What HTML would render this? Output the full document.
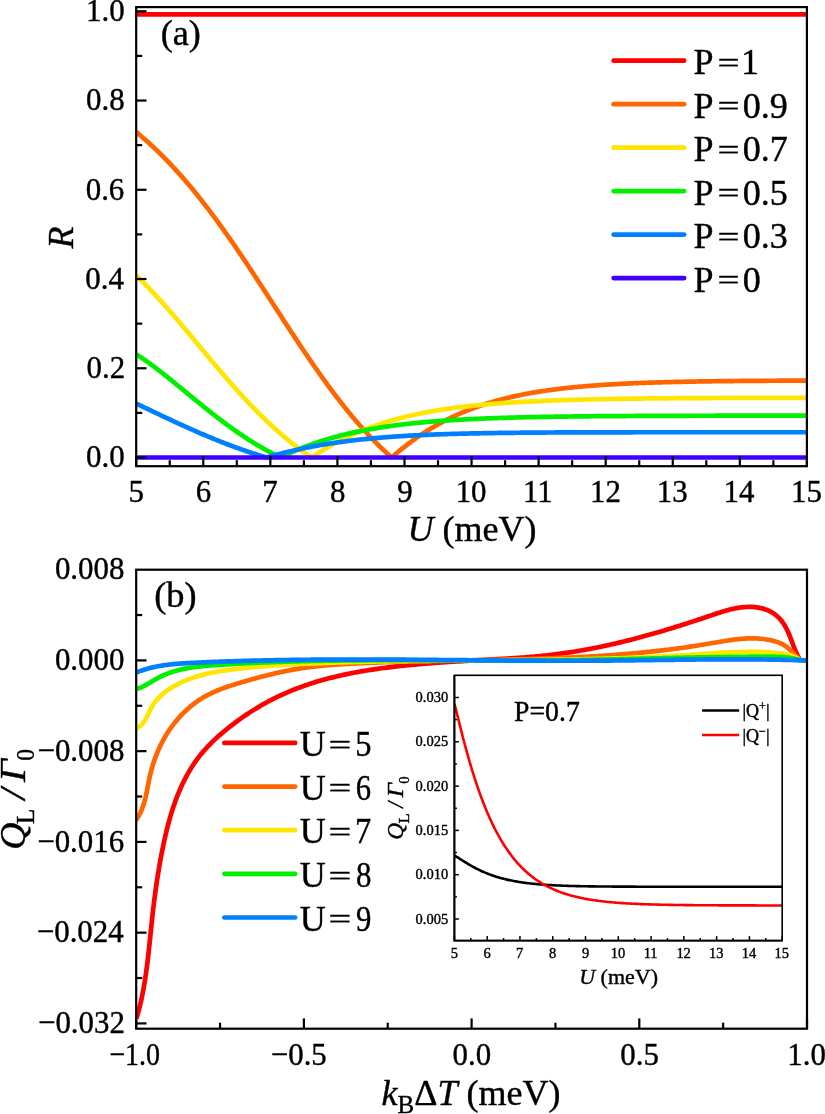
<!DOCTYPE html>
<html><head><meta charset="utf-8"><title>Figure</title>
<style>html,body{margin:0;padding:0;background:#fff;overflow:hidden}svg{display:block}text{stroke:#000;stroke-width:0.4px}</style>
</head><body>
<svg width="825" height="1114" viewBox="0 0 825 1114">
<rect width="825" height="1114" fill="#fff"/>
<defs><clipPath id="ca"><rect x="136.2" y="7.1" width="670.7" height="459.09999999999997"/></clipPath>
<clipPath id="cb"><rect x="136.2" y="569.7" width="670.8" height="459.0"/></clipPath>
<clipPath id="ci"><rect x="454.4" y="675.3" width="327.80000000000007" height="265.30000000000007"/></clipPath></defs>
<g clip-path="url(#ca)" fill="none" stroke-width="4.7" stroke-linejoin="round">
<path d="M136.2 14.4L806.9 14.4" stroke="#ff0000"/>
<path d="M136.2 131.97L137.32 132.9L138.44 133.83L139.55 134.78L140.67 135.73L141.79 136.69L142.91 137.66L144.02 138.63L145.14 139.62L146.26 140.61L147.38 141.61L148.5 142.62L149.61 143.64L150.73 144.66L151.85 145.7L152.97 146.74L154.09 147.79L155.2 148.85L156.32 149.92L157.44 151L158.56 152.08L159.67 153.18L160.79 154.28L161.91 155.39L163.03 156.51L164.15 157.64L165.26 158.78L166.38 159.93L167.5 161.08L168.62 162.24L169.73 163.42L170.85 164.6L171.97 165.79L173.09 166.99L174.21 168.19L175.32 169.41L176.44 170.64L177.56 171.87L178.68 173.11L179.8 174.36L180.91 175.62L182.03 176.89L183.15 178.17L184.27 179.46L185.38 180.75L186.5 182.05L187.62 183.37L188.74 184.69L189.86 186.02L190.97 187.35L192.09 188.7L193.21 190.06L194.33 191.42L195.45 192.79L196.56 194.17L197.68 195.56L198.8 196.96L199.92 198.36L201.03 199.78L202.15 201.2L203.27 202.63L204.39 204.07L205.51 205.51L206.62 206.97L207.74 208.43L208.86 209.9L209.98 211.37L211.09 212.86L212.21 214.35L213.33 215.85L214.45 217.36L215.57 218.87L216.68 220.39L217.8 221.92L218.92 223.46L220.04 225L221.16 226.55L222.27 228.11L223.39 229.67L224.51 231.24L225.63 232.82L226.74 234.4L227.86 235.99L228.98 237.59L230.1 239.19L231.22 240.8L232.33 242.41L233.45 244.03L234.57 245.66L235.69 247.29L236.81 248.92L237.92 250.56L239.04 252.21L240.16 253.86L241.28 255.52L242.39 257.18L243.51 258.84L244.63 260.51L245.75 262.18L246.87 263.86L247.98 265.54L249.1 267.23L250.22 268.92L251.34 270.61L252.45 272.3L253.57 274L254.69 275.71L255.81 277.41L256.93 279.12L258.04 280.83L259.16 282.54L260.28 284.25L261.4 285.97L262.52 287.69L263.63 289.41L264.75 291.13L265.87 292.85L266.99 294.57L268.1 296.3L269.22 298.02L270.34 299.75L271.46 301.48L272.58 303.2L273.69 304.93L274.81 306.66L275.93 308.38L277.05 310.11L278.16 311.84L279.28 313.56L280.4 315.28L281.52 317.01L282.64 318.73L283.75 320.45L284.87 322.17L285.99 323.88L287.11 325.6L288.23 327.31L289.34 329.02L290.46 330.72L291.58 332.43L292.7 334.13L293.81 335.83L294.93 337.52L296.05 339.21L297.17 340.9L298.29 342.59L299.4 344.27L300.52 345.94L301.64 347.61L302.76 349.28L303.88 350.95L304.99 352.6L306.11 354.26L307.23 355.9L308.35 357.55L309.46 359.18L310.58 360.82L311.7 362.44L312.82 364.06L313.94 365.68L315.05 367.29L316.17 368.89L317.29 370.48L318.41 372.07L319.52 373.66L320.64 375.23L321.76 376.8L322.88 378.36L324 379.92L325.11 381.46L326.23 383L327.35 384.54L328.47 386.06L329.59 387.58L330.7 389.09L331.82 390.59L332.94 392.08L334.06 393.57L335.17 395.04L336.29 396.51L337.41 397.97L338.53 399.42L339.65 400.87L340.76 402.3L341.88 403.73L343 405.14L344.12 406.55L345.23 407.95L346.35 409.34L347.47 410.72L348.59 412.09L349.71 413.45L350.82 414.8L351.94 416.15L353.06 417.48L354.18 418.81L355.3 420.12L356.41 421.42L357.53 422.72L358.65 424.01L359.77 425.28L360.88 426.55L362 427.8L363.12 429.05L364.24 430.29L365.36 431.51L366.47 432.73L367.59 433.94L368.71 435.13L369.83 436.32L370.95 437.5L372.06 438.67L373.18 439.82L374.3 440.97L375.42 442.11L376.53 443.24L377.65 444.35L378.77 445.46L379.89 446.56L381.01 447.64L382.12 448.72L383.24 449.79L384.36 450.85L385.48 451.89L386.59 452.93L387.71 453.96L388.83 454.98L389.95 455.99L391.07 456.99L391.65 457.5L392.18 457.03L393.3 456.05L394.42 455.08L395.54 454.12L396.66 453.17L397.77 452.23L398.89 451.3L400.01 450.38L401.13 449.47L402.24 448.56L403.36 447.67L404.48 446.79L405.6 445.91L406.72 445.05L407.83 444.19L408.95 443.35L410.07 442.51L411.19 441.68L412.3 440.86L413.42 440.06L414.54 439.25L415.66 438.46L416.78 437.68L417.89 436.91L419.01 436.14L420.13 435.38L421.25 434.63L422.37 433.9L423.48 433.16L424.6 432.44L425.72 431.73L426.84 431.02L427.95 430.32L429.07 429.63L430.19 428.95L431.31 428.28L432.43 427.61L433.54 426.96L434.66 426.31L435.78 425.67L436.9 425.03L438.01 424.41L439.13 423.79L440.25 423.18L441.37 422.57L442.49 421.98L443.6 421.39L444.72 420.81L445.84 420.23L446.96 419.67L448.08 419.11L449.19 418.55L450.31 418.01L451.43 417.47L452.55 416.94L453.66 416.41L454.78 415.89L455.9 415.38L457.02 414.88L458.14 414.38L459.25 413.89L460.37 413.4L461.49 412.92L462.61 412.45L463.73 411.98L464.84 411.52L465.96 411.07L467.08 410.62L468.2 410.17L469.31 409.74L470.43 409.31L471.55 408.88L472.67 408.46L473.79 408.05L474.9 407.64L476.02 407.24L477.14 406.84L478.26 406.45L479.37 406.06L480.49 405.68L481.61 405.3L482.73 404.93L483.85 404.57L484.96 404.2L486.08 403.85L487.2 403.5L488.32 403.15L489.44 402.81L490.55 402.47L491.67 402.14L492.79 401.81L493.91 401.49L495.02 401.17L496.14 400.86L497.26 400.55L498.38 400.24L499.5 399.94L500.61 399.65L501.73 399.35L502.85 399.07L503.97 398.78L505.09 398.5L506.2 398.22L507.32 397.95L508.44 397.68L509.56 397.42L510.67 397.16L511.79 396.9L512.91 396.65L514.03 396.4L515.15 396.15L516.26 395.91L517.38 395.67L518.5 395.44L519.62 395.2L520.73 394.98L521.85 394.75L522.97 394.53L524.09 394.31L525.21 394.09L526.32 393.88L527.44 393.67L528.56 393.47L529.68 393.26L530.8 393.06L531.91 392.87L533.03 392.67L534.15 392.48L535.27 392.29L536.38 392.11L537.5 391.92L538.62 391.74L539.74 391.56L540.86 391.39L541.97 391.22L543.09 391.05L544.21 390.88L545.33 390.72L546.44 390.55L547.56 390.39L548.68 390.24L549.8 390.08L550.92 389.93L552.03 389.78L553.15 389.63L554.27 389.48L555.39 389.34L556.51 389.2L557.62 389.06L558.74 388.92L559.86 388.79L560.98 388.65L562.09 388.52L563.21 388.39L564.33 388.26L565.45 388.14L566.57 388.02L567.68 387.89L568.8 387.77L569.92 387.66L571.04 387.54L572.15 387.43L573.27 387.31L574.39 387.2L575.51 387.09L576.63 386.99L577.74 386.88L578.86 386.78L579.98 386.68L581.1 386.57L582.22 386.47L583.33 386.38L584.45 386.28L585.57 386.19L586.69 386.09L587.8 386L588.92 385.91L590.04 385.82L591.16 385.73L592.28 385.65L593.39 385.56L594.51 385.48L595.63 385.4L596.75 385.32L597.87 385.24L598.98 385.16L600.1 385.08L601.22 385L602.34 384.93L603.45 384.86L604.57 384.78L605.69 384.71L606.81 384.64L607.93 384.57L609.04 384.5L610.16 384.44L611.28 384.37L612.4 384.31L613.51 384.24L614.63 384.18L615.75 384.12L616.87 384.06L617.99 384L619.1 383.94L620.22 383.88L621.34 383.82L622.46 383.77L623.58 383.71L624.69 383.66L625.81 383.6L626.93 383.55L628.05 383.5L629.16 383.45L630.28 383.4L631.4 383.35L632.52 383.3L633.64 383.25L634.75 383.2L635.87 383.16L636.99 383.11L638.11 383.07L639.22 383.02L640.34 382.98L641.46 382.94L642.58 382.9L643.7 382.85L644.81 382.81L645.93 382.77L647.05 382.73L648.17 382.7L649.29 382.66L650.4 382.62L651.52 382.58L652.64 382.55L653.76 382.51L654.87 382.48L655.99 382.44L657.11 382.41L658.23 382.37L659.35 382.34L660.46 382.31L661.58 382.28L662.7 382.25L663.82 382.21L664.94 382.18L666.05 382.15L667.17 382.12L668.29 382.1L669.41 382.07L670.52 382.04L671.64 382.01L672.76 381.99L673.88 381.96L675 381.93L676.11 381.91L677.23 381.88L678.35 381.86L679.47 381.83L680.58 381.81L681.7 381.78L682.82 381.76L683.94 381.74L685.06 381.72L686.17 381.69L687.29 381.67L688.41 381.65L689.53 381.63L690.65 381.61L691.76 381.59L692.88 381.57L694 381.55L695.12 381.53L696.23 381.51L697.35 381.49L698.47 381.47L699.59 381.45L700.71 381.44L701.82 381.42L702.94 381.4L704.06 381.39L705.18 381.37L706.3 381.35L707.41 381.34L708.53 381.32L709.65 381.3L710.77 381.29L711.88 381.27L713 381.26L714.12 381.25L715.24 381.23L716.36 381.22L717.47 381.2L718.59 381.19L719.71 381.18L720.83 381.16L721.94 381.15L723.06 381.14L724.18 381.13L725.3 381.11L726.42 381.1L727.53 381.09L728.65 381.08L729.77 381.07L730.89 381.05L732.01 381.04L733.12 381.03L734.24 381.02L735.36 381.01L736.48 381L737.59 380.99L738.71 380.98L739.83 380.97L740.95 380.96L742.07 380.95L743.18 380.94L744.3 380.93L745.42 380.92L746.54 380.92L747.65 380.91L748.77 380.9L749.89 380.89L751.01 380.88L752.13 380.87L753.24 380.87L754.36 380.86L755.48 380.85L756.6 380.84L757.72 380.84L758.83 380.83L759.95 380.82L761.07 380.81L762.19 380.81L763.3 380.8L764.42 380.79L765.54 380.79L766.66 380.78L767.78 380.77L768.89 380.77L770.01 380.76L771.13 380.76L772.25 380.75L773.37 380.74L774.48 380.74L775.6 380.73L776.72 380.73L777.84 380.72L778.95 380.72L780.07 380.71L781.19 380.71L782.31 380.7L783.43 380.7L784.54 380.69L785.66 380.69L786.78 380.68L787.9 380.68L789.01 380.67L790.13 380.67L791.25 380.66L792.37 380.66L793.49 380.66L794.6 380.65L795.72 380.65L796.84 380.64L797.96 380.64L799.08 380.64L800.19 380.63L801.31 380.63L802.43 380.62L803.55 380.62L804.66 380.62L805.78 380.61L806.9 380.61" stroke="#ff6600"/>
<path d="M136.2 275.42L137.32 276.5L138.44 277.58L139.55 278.68L140.67 279.78L141.79 280.89L142.91 282.01L144.02 283.13L145.14 284.27L146.26 285.41L147.38 286.57L148.5 287.72L149.61 288.89L150.73 290.07L151.85 291.25L152.97 292.44L154.09 293.63L155.2 294.84L156.32 296.05L157.44 297.26L158.56 298.48L159.67 299.71L160.79 300.95L161.91 302.19L163.03 303.44L164.15 304.69L165.26 305.95L166.38 307.21L167.5 308.48L168.62 309.76L169.73 311.04L170.85 312.32L171.97 313.61L173.09 314.9L174.21 316.2L175.32 317.5L176.44 318.8L177.56 320.11L178.68 321.42L179.8 322.74L180.91 324.06L182.03 325.38L183.15 326.7L184.27 328.03L185.38 329.36L186.5 330.69L187.62 332.02L188.74 333.36L189.86 334.69L190.97 336.03L192.09 337.37L193.21 338.71L194.33 340.05L195.45 341.39L196.56 342.74L197.68 344.08L198.8 345.42L199.92 346.76L201.03 348.11L202.15 349.45L203.27 350.79L204.39 352.13L205.51 353.47L206.62 354.81L207.74 356.15L208.86 357.49L209.98 358.82L211.09 360.15L212.21 361.48L213.33 362.81L214.45 364.14L215.57 365.46L216.68 366.78L217.8 368.1L218.92 369.42L220.04 370.73L221.16 372.04L222.27 373.35L223.39 374.65L224.51 375.95L225.63 377.24L226.74 378.53L227.86 379.82L228.98 381.1L230.1 382.38L231.22 383.65L232.33 384.92L233.45 386.18L234.57 387.44L235.69 388.69L236.81 389.94L237.92 391.18L239.04 392.42L240.16 393.65L241.28 394.88L242.39 396.1L243.51 397.31L244.63 398.52L245.75 399.72L246.87 400.92L247.98 402.11L249.1 403.29L250.22 404.47L251.34 405.64L252.45 406.8L253.57 407.96L254.69 409.11L255.81 410.25L256.93 411.39L258.04 412.52L259.16 413.64L260.28 414.75L261.4 415.86L262.52 416.96L263.63 418.05L264.75 419.14L265.87 420.21L266.99 421.28L268.1 422.35L269.22 423.4L270.34 424.45L271.46 425.49L272.58 426.52L273.69 427.55L274.81 428.56L275.93 429.57L277.05 430.57L278.16 431.56L279.28 432.55L280.4 433.53L281.52 434.5L282.64 435.46L283.75 436.41L284.87 437.36L285.99 438.29L287.11 439.22L288.23 440.14L289.34 441.06L290.46 441.96L291.58 442.86L292.7 443.75L293.81 444.63L294.93 445.5L296.05 446.37L297.17 447.23L298.29 448.08L299.4 448.92L300.52 449.75L301.64 450.58L302.76 451.39L303.88 452.2L304.99 453.01L306.11 453.8L307.23 454.59L308.35 455.37L309.46 456.14L310.58 456.9L311.47 457.5L311.7 457.34L312.82 456.6L313.94 455.86L315.05 455.12L316.17 454.4L317.29 453.68L318.41 452.97L319.52 452.27L320.64 451.57L321.76 450.88L322.88 450.2L324 449.53L325.11 448.86L326.23 448.21L327.35 447.55L328.47 446.91L329.59 446.27L330.7 445.64L331.82 445.02L332.94 444.4L334.06 443.79L335.17 443.19L336.29 442.59L337.41 442.01L338.53 441.42L339.65 440.85L340.76 440.28L341.88 439.72L343 439.16L344.12 438.61L345.23 438.07L346.35 437.53L347.47 437L348.59 436.47L349.71 435.96L350.82 435.44L351.94 434.94L353.06 434.44L354.18 433.95L355.3 433.46L356.41 432.98L357.53 432.5L358.65 432.03L359.77 431.56L360.88 431.1L362 430.65L363.12 430.2L364.24 429.76L365.36 429.32L366.47 428.89L367.59 428.47L368.71 428.05L369.83 427.63L370.95 427.22L372.06 426.82L373.18 426.42L374.3 426.02L375.42 425.63L376.53 425.25L377.65 424.87L378.77 424.49L379.89 424.12L381.01 423.75L382.12 423.39L383.24 423.04L384.36 422.68L385.48 422.34L386.59 421.99L387.71 421.66L388.83 421.32L389.95 420.99L391.07 420.67L392.18 420.35L393.3 420.03L394.42 419.72L395.54 419.41L396.66 419.1L397.77 418.8L398.89 418.51L400.01 418.21L401.13 417.93L402.24 417.64L403.36 417.36L404.48 417.08L405.6 416.81L406.72 416.54L407.83 416.27L408.95 416.01L410.07 415.75L411.19 415.49L412.3 415.24L413.42 414.99L414.54 414.75L415.66 414.51L416.78 414.27L417.89 414.03L419.01 413.8L420.13 413.57L421.25 413.34L422.37 413.12L423.48 412.9L424.6 412.68L425.72 412.47L426.84 412.26L427.95 412.05L429.07 411.84L430.19 411.64L431.31 411.44L432.43 411.24L433.54 411.05L434.66 410.86L435.78 410.67L436.9 410.48L438.01 410.3L439.13 410.12L440.25 409.94L441.37 409.76L442.49 409.59L443.6 409.42L444.72 409.25L445.84 409.08L446.96 408.92L448.08 408.76L449.19 408.6L450.31 408.44L451.43 408.28L452.55 408.13L453.66 407.98L454.78 407.83L455.9 407.68L457.02 407.54L458.14 407.4L459.25 407.26L460.37 407.12L461.49 406.98L462.61 406.85L463.73 406.71L464.84 406.58L465.96 406.45L467.08 406.33L468.2 406.2L469.31 406.08L470.43 405.95L471.55 405.83L472.67 405.72L473.79 405.6L474.9 405.48L476.02 405.37L477.14 405.26L478.26 405.15L479.37 405.04L480.49 404.93L481.61 404.83L482.73 404.72L483.85 404.62L484.96 404.52L486.08 404.42L487.2 404.32L488.32 404.22L489.44 404.13L490.55 404.03L491.67 403.94L492.79 403.85L493.91 403.76L495.02 403.67L496.14 403.58L497.26 403.5L498.38 403.41L499.5 403.33L500.61 403.25L501.73 403.16L502.85 403.08L503.97 403.01L505.09 402.93L506.2 402.85L507.32 402.77L508.44 402.7L509.56 402.63L510.67 402.55L511.79 402.48L512.91 402.41L514.03 402.34L515.15 402.27L516.26 402.21L517.38 402.14L518.5 402.08L519.62 402.01L520.73 401.95L521.85 401.88L522.97 401.82L524.09 401.76L525.21 401.7L526.32 401.64L527.44 401.59L528.56 401.53L529.68 401.47L530.8 401.42L531.91 401.36L533.03 401.31L534.15 401.25L535.27 401.2L536.38 401.15L537.5 401.1L538.62 401.05L539.74 401L540.86 400.95L541.97 400.9L543.09 400.85L544.21 400.81L545.33 400.76L546.44 400.72L547.56 400.67L548.68 400.63L549.8 400.58L550.92 400.54L552.03 400.5L553.15 400.46L554.27 400.42L555.39 400.38L556.51 400.34L557.62 400.3L558.74 400.26L559.86 400.22L560.98 400.18L562.09 400.15L563.21 400.11L564.33 400.07L565.45 400.04L566.57 400L567.68 399.97L568.8 399.94L569.92 399.9L571.04 399.87L572.15 399.84L573.27 399.81L574.39 399.78L575.51 399.74L576.63 399.71L577.74 399.68L578.86 399.65L579.98 399.63L581.1 399.6L582.22 399.57L583.33 399.54L584.45 399.51L585.57 399.49L586.69 399.46L587.8 399.43L588.92 399.41L590.04 399.38L591.16 399.36L592.28 399.33L593.39 399.31L594.51 399.28L595.63 399.26L596.75 399.24L597.87 399.21L598.98 399.19L600.1 399.17L601.22 399.15L602.34 399.13L603.45 399.1L604.57 399.08L605.69 399.06L606.81 399.04L607.93 399.02L609.04 399L610.16 398.98L611.28 398.96L612.4 398.94L613.51 398.93L614.63 398.91L615.75 398.89L616.87 398.87L617.99 398.85L619.1 398.84L620.22 398.82L621.34 398.8L622.46 398.79L623.58 398.77L624.69 398.75L625.81 398.74L626.93 398.72L628.05 398.71L629.16 398.69L630.28 398.68L631.4 398.66L632.52 398.65L633.64 398.63L634.75 398.62L635.87 398.61L636.99 398.59L638.11 398.58L639.22 398.57L640.34 398.55L641.46 398.54L642.58 398.53L643.7 398.51L644.81 398.5L645.93 398.49L647.05 398.48L648.17 398.47L649.29 398.45L650.4 398.44L651.52 398.43L652.64 398.42L653.76 398.41L654.87 398.4L655.99 398.39L657.11 398.38L658.23 398.37L659.35 398.36L660.46 398.35L661.58 398.34L662.7 398.33L663.82 398.32L664.94 398.31L666.05 398.3L667.17 398.29L668.29 398.28L669.41 398.27L670.52 398.26L671.64 398.26L672.76 398.25L673.88 398.24L675 398.23L676.11 398.22L677.23 398.22L678.35 398.21L679.47 398.2L680.58 398.19L681.7 398.18L682.82 398.18L683.94 398.17L685.06 398.16L686.17 398.16L687.29 398.15L688.41 398.14L689.53 398.14L690.65 398.13L691.76 398.12L692.88 398.12L694 398.11L695.12 398.1L696.23 398.1L697.35 398.09L698.47 398.08L699.59 398.08L700.71 398.07L701.82 398.07L702.94 398.06L704.06 398.06L705.18 398.05L706.3 398.05L707.41 398.04L708.53 398.03L709.65 398.03L710.77 398.02L711.88 398.02L713 398.01L714.12 398.01L715.24 398L716.36 398L717.47 398L718.59 397.99L719.71 397.99L720.83 397.98L721.94 397.98L723.06 397.97L724.18 397.97L725.3 397.96L726.42 397.96L727.53 397.96L728.65 397.95L729.77 397.95L730.89 397.94L732.01 397.94L733.12 397.94L734.24 397.93L735.36 397.93L736.48 397.93L737.59 397.92L738.71 397.92L739.83 397.92L740.95 397.91L742.07 397.91L743.18 397.91L744.3 397.9L745.42 397.9L746.54 397.9L747.65 397.89L748.77 397.89L749.89 397.89L751.01 397.88L752.13 397.88L753.24 397.88L754.36 397.88L755.48 397.87L756.6 397.87L757.72 397.87L758.83 397.86L759.95 397.86L761.07 397.86L762.19 397.86L763.3 397.85L764.42 397.85L765.54 397.85L766.66 397.85L767.78 397.84L768.89 397.84L770.01 397.84L771.13 397.84L772.25 397.84L773.37 397.83L774.48 397.83L775.6 397.83L776.72 397.83L777.84 397.82L778.95 397.82L780.07 397.82L781.19 397.82L782.31 397.82L783.43 397.81L784.54 397.81L785.66 397.81L786.78 397.81L787.9 397.81L789.01 397.81L790.13 397.8L791.25 397.8L792.37 397.8L793.49 397.8L794.6 397.8L795.72 397.8L796.84 397.79L797.96 397.79L799.08 397.79L800.19 397.79L801.31 397.79L802.43 397.79L803.55 397.78L804.66 397.78L805.78 397.78L806.9 397.78" stroke="#ffe600"/>
<path d="M136.2 354.21L137.32 354.93L138.44 355.66L139.55 356.4L140.67 357.15L141.79 357.9L142.91 358.66L144.02 359.44L145.14 360.22L146.26 361L147.38 361.8L148.5 362.6L149.61 363.41L150.73 364.23L151.85 365.05L152.97 365.88L154.09 366.71L155.2 367.56L156.32 368.4L157.44 369.26L158.56 370.12L159.67 370.98L160.79 371.85L161.91 372.72L163.03 373.6L164.15 374.48L165.26 375.36L166.38 376.25L167.5 377.15L168.62 378.04L169.73 378.94L170.85 379.85L171.97 380.75L173.09 381.66L174.21 382.57L175.32 383.48L176.44 384.4L177.56 385.31L178.68 386.23L179.8 387.15L180.91 388.07L182.03 388.99L183.15 389.91L184.27 390.83L185.38 391.75L186.5 392.68L187.62 393.6L188.74 394.52L189.86 395.44L190.97 396.36L192.09 397.28L193.21 398.2L194.33 399.12L195.45 400.03L196.56 400.95L197.68 401.86L198.8 402.77L199.92 403.68L201.03 404.59L202.15 405.5L203.27 406.4L204.39 407.3L205.51 408.2L206.62 409.09L207.74 409.98L208.86 410.87L209.98 411.75L211.09 412.64L212.21 413.51L213.33 414.39L214.45 415.26L215.57 416.13L216.68 416.99L217.8 417.85L218.92 418.7L220.04 419.56L221.16 420.4L222.27 421.24L223.39 422.08L224.51 422.91L225.63 423.74L226.74 424.56L227.86 425.38L228.98 426.2L230.1 427L231.22 427.81L232.33 428.6L233.45 429.4L234.57 430.19L235.69 430.97L236.81 431.74L237.92 432.52L239.04 433.28L240.16 434.04L241.28 434.8L242.39 435.55L243.51 436.29L244.63 437.03L245.75 437.76L246.87 438.48L247.98 439.2L249.1 439.92L250.22 440.63L251.34 441.33L252.45 442.03L253.57 442.72L254.69 443.4L255.81 444.08L256.93 444.76L258.04 445.42L259.16 446.08L260.28 446.74L261.4 447.39L262.52 448.03L263.63 448.67L264.75 449.3L265.87 449.93L266.99 450.55L268.1 451.16L269.22 451.77L270.34 452.37L271.46 452.96L272.58 453.55L273.69 454.14L274.81 454.72L275.93 455.29L277.05 455.85L278.16 456.42L279.28 456.97L280.36 457.5L280.4 457.48L281.52 456.94L282.64 456.4L283.75 455.87L284.87 455.34L285.99 454.82L287.11 454.31L288.23 453.8L289.34 453.3L290.46 452.8L291.58 452.31L292.7 451.82L293.81 451.34L294.93 450.86L296.05 450.39L297.17 449.92L298.29 449.46L299.4 449.01L300.52 448.56L301.64 448.12L302.76 447.68L303.88 447.24L304.99 446.81L306.11 446.39L307.23 445.97L308.35 445.56L309.46 445.15L310.58 444.75L311.7 444.35L312.82 443.95L313.94 443.56L315.05 443.18L316.17 442.8L317.29 442.42L318.41 442.05L319.52 441.69L320.64 441.32L321.76 440.97L322.88 440.61L324 440.27L325.11 439.92L326.23 439.58L327.35 439.25L328.47 438.92L329.59 438.59L330.7 438.27L331.82 437.95L332.94 437.63L334.06 437.32L335.17 437.02L336.29 436.71L337.41 436.42L338.53 436.12L339.65 435.83L340.76 435.54L341.88 435.26L343 434.98L344.12 434.7L345.23 434.43L346.35 434.16L347.47 433.9L348.59 433.64L349.71 433.38L350.82 433.12L351.94 432.87L353.06 432.63L354.18 432.38L355.3 432.14L356.41 431.9L357.53 431.67L358.65 431.43L359.77 431.21L360.88 430.98L362 430.76L363.12 430.54L364.24 430.32L365.36 430.11L366.47 429.9L367.59 429.69L368.71 429.49L369.83 429.29L370.95 429.09L372.06 428.89L373.18 428.7L374.3 428.51L375.42 428.32L376.53 428.13L377.65 427.95L378.77 427.77L379.89 427.59L381.01 427.41L382.12 427.24L383.24 427.07L384.36 426.9L385.48 426.74L386.59 426.57L387.71 426.41L388.83 426.25L389.95 426.09L391.07 425.94L392.18 425.79L393.3 425.64L394.42 425.49L395.54 425.34L396.66 425.2L397.77 425.06L398.89 424.92L400.01 424.78L401.13 424.64L402.24 424.51L403.36 424.38L404.48 424.25L405.6 424.12L406.72 423.99L407.83 423.87L408.95 423.75L410.07 423.63L411.19 423.51L412.3 423.39L413.42 423.27L414.54 423.16L415.66 423.05L416.78 422.93L417.89 422.83L419.01 422.72L420.13 422.61L421.25 422.51L422.37 422.4L423.48 422.3L424.6 422.2L425.72 422.1L426.84 422.01L427.95 421.91L429.07 421.82L430.19 421.72L431.31 421.63L432.43 421.54L433.54 421.45L434.66 421.36L435.78 421.28L436.9 421.19L438.01 421.11L439.13 421.03L440.25 420.94L441.37 420.86L442.49 420.78L443.6 420.71L444.72 420.63L445.84 420.55L446.96 420.48L448.08 420.41L449.19 420.33L450.31 420.26L451.43 420.19L452.55 420.12L453.66 420.05L454.78 419.99L455.9 419.92L457.02 419.86L458.14 419.79L459.25 419.73L460.37 419.67L461.49 419.61L462.61 419.54L463.73 419.48L464.84 419.43L465.96 419.37L467.08 419.31L468.2 419.26L469.31 419.2L470.43 419.15L471.55 419.09L472.67 419.04L473.79 418.99L474.9 418.94L476.02 418.89L477.14 418.84L478.26 418.79L479.37 418.74L480.49 418.69L481.61 418.64L482.73 418.6L483.85 418.55L484.96 418.51L486.08 418.46L487.2 418.42L488.32 418.38L489.44 418.33L490.55 418.29L491.67 418.25L492.79 418.21L493.91 418.17L495.02 418.13L496.14 418.09L497.26 418.06L498.38 418.02L499.5 417.98L500.61 417.95L501.73 417.91L502.85 417.88L503.97 417.84L505.09 417.81L506.2 417.77L507.32 417.74L508.44 417.71L509.56 417.68L510.67 417.64L511.79 417.61L512.91 417.58L514.03 417.55L515.15 417.52L516.26 417.49L517.38 417.46L518.5 417.44L519.62 417.41L520.73 417.38L521.85 417.35L522.97 417.33L524.09 417.3L525.21 417.27L526.32 417.25L527.44 417.22L528.56 417.2L529.68 417.17L530.8 417.15L531.91 417.13L533.03 417.1L534.15 417.08L535.27 417.06L536.38 417.04L537.5 417.01L538.62 416.99L539.74 416.97L540.86 416.95L541.97 416.93L543.09 416.91L544.21 416.89L545.33 416.87L546.44 416.85L547.56 416.83L548.68 416.81L549.8 416.79L550.92 416.78L552.03 416.76L553.15 416.74L554.27 416.72L555.39 416.71L556.51 416.69L557.62 416.67L558.74 416.66L559.86 416.64L560.98 416.62L562.09 416.61L563.21 416.59L564.33 416.58L565.45 416.56L566.57 416.55L567.68 416.53L568.8 416.52L569.92 416.5L571.04 416.49L572.15 416.48L573.27 416.46L574.39 416.45L575.51 416.44L576.63 416.42L577.74 416.41L578.86 416.4L579.98 416.39L581.1 416.38L582.22 416.36L583.33 416.35L584.45 416.34L585.57 416.33L586.69 416.32L587.8 416.31L588.92 416.3L590.04 416.29L591.16 416.27L592.28 416.26L593.39 416.25L594.51 416.24L595.63 416.23L596.75 416.22L597.87 416.22L598.98 416.21L600.1 416.2L601.22 416.19L602.34 416.18L603.45 416.17L604.57 416.16L605.69 416.15L606.81 416.14L607.93 416.14L609.04 416.13L610.16 416.12L611.28 416.11L612.4 416.1L613.51 416.1L614.63 416.09L615.75 416.08L616.87 416.07L617.99 416.07L619.1 416.06L620.22 416.05L621.34 416.05L622.46 416.04L623.58 416.03L624.69 416.03L625.81 416.02L626.93 416.01L628.05 416.01L629.16 416L630.28 415.99L631.4 415.99L632.52 415.98L633.64 415.98L634.75 415.97L635.87 415.96L636.99 415.96L638.11 415.95L639.22 415.95L640.34 415.94L641.46 415.94L642.58 415.93L643.7 415.93L644.81 415.92L645.93 415.92L647.05 415.91L648.17 415.91L649.29 415.9L650.4 415.9L651.52 415.89L652.64 415.89L653.76 415.89L654.87 415.88L655.99 415.88L657.11 415.87L658.23 415.87L659.35 415.86L660.46 415.86L661.58 415.86L662.7 415.85L663.82 415.85L664.94 415.84L666.05 415.84L667.17 415.84L668.29 415.83L669.41 415.83L670.52 415.83L671.64 415.82L672.76 415.82L673.88 415.82L675 415.81L676.11 415.81L677.23 415.81L678.35 415.8L679.47 415.8L680.58 415.8L681.7 415.79L682.82 415.79L683.94 415.79L685.06 415.79L686.17 415.78L687.29 415.78L688.41 415.78L689.53 415.77L690.65 415.77L691.76 415.77L692.88 415.77L694 415.76L695.12 415.76L696.23 415.76L697.35 415.76L698.47 415.75L699.59 415.75L700.71 415.75L701.82 415.75L702.94 415.75L704.06 415.74L705.18 415.74L706.3 415.74L707.41 415.74L708.53 415.74L709.65 415.73L710.77 415.73L711.88 415.73L713 415.73L714.12 415.73L715.24 415.72L716.36 415.72L717.47 415.72L718.59 415.72L719.71 415.72L720.83 415.71L721.94 415.71L723.06 415.71L724.18 415.71L725.3 415.71L726.42 415.71L727.53 415.7L728.65 415.7L729.77 415.7L730.89 415.7L732.01 415.7L733.12 415.7L734.24 415.7L735.36 415.69L736.48 415.69L737.59 415.69L738.71 415.69L739.83 415.69L740.95 415.69L742.07 415.69L743.18 415.68L744.3 415.68L745.42 415.68L746.54 415.68L747.65 415.68L748.77 415.68L749.89 415.68L751.01 415.68L752.13 415.68L753.24 415.67L754.36 415.67L755.48 415.67L756.6 415.67L757.72 415.67L758.83 415.67L759.95 415.67L761.07 415.67L762.19 415.67L763.3 415.67L764.42 415.66L765.54 415.66L766.66 415.66L767.78 415.66L768.89 415.66L770.01 415.66L771.13 415.66L772.25 415.66L773.37 415.66L774.48 415.66L775.6 415.66L776.72 415.65L777.84 415.65L778.95 415.65L780.07 415.65L781.19 415.65L782.31 415.65L783.43 415.65L784.54 415.65L785.66 415.65L786.78 415.65L787.9 415.65L789.01 415.65L790.13 415.65L791.25 415.65L792.37 415.64L793.49 415.64L794.6 415.64L795.72 415.64L796.84 415.64L797.96 415.64L799.08 415.64L800.19 415.64L801.31 415.64L802.43 415.64L803.55 415.64L804.66 415.64L805.78 415.64L806.9 415.64" stroke="#00f000"/>
<path d="M136.2 403.57L137.32 404.1L138.44 404.63L139.55 405.16L140.67 405.69L141.79 406.23L142.91 406.76L144.02 407.29L145.14 407.82L146.26 408.35L147.38 408.89L148.5 409.42L149.61 409.95L150.73 410.48L151.85 411.01L152.97 411.54L154.09 412.07L155.2 412.61L156.32 413.13L157.44 413.66L158.56 414.19L159.67 414.72L160.79 415.25L161.91 415.78L163.03 416.3L164.15 416.83L165.26 417.35L166.38 417.88L167.5 418.4L168.62 418.93L169.73 419.45L170.85 419.97L171.97 420.49L173.09 421.01L174.21 421.53L175.32 422.04L176.44 422.56L177.56 423.07L178.68 423.59L179.8 424.1L180.91 424.61L182.03 425.12L183.15 425.63L184.27 426.14L185.38 426.64L186.5 427.15L187.62 427.65L188.74 428.15L189.86 428.65L190.97 429.15L192.09 429.64L193.21 430.14L194.33 430.63L195.45 431.12L196.56 431.61L197.68 432.1L198.8 432.58L199.92 433.07L201.03 433.55L202.15 434.03L203.27 434.51L204.39 434.98L205.51 435.46L206.62 435.93L207.74 436.4L208.86 436.86L209.98 437.33L211.09 437.79L212.21 438.25L213.33 438.71L214.45 439.17L215.57 439.62L216.68 440.07L217.8 440.52L218.92 440.97L220.04 441.41L221.16 441.85L222.27 442.29L223.39 442.73L224.51 443.16L225.63 443.59L226.74 444.02L227.86 444.45L228.98 444.87L230.1 445.29L231.22 445.71L232.33 446.13L233.45 446.54L234.57 446.95L235.69 447.36L236.81 447.76L237.92 448.17L239.04 448.56L240.16 448.96L241.28 449.35L242.39 449.74L243.51 450.13L244.63 450.52L245.75 450.9L246.87 451.28L247.98 451.66L249.1 452.03L250.22 452.4L251.34 452.77L252.45 453.13L253.57 453.49L254.69 453.85L255.81 454.21L256.93 454.56L258.04 454.91L259.16 455.26L260.28 455.6L261.4 455.94L262.52 456.28L263.63 456.62L264.75 456.95L265.87 457.28L266.62 457.5L266.99 457.39L268.1 457.07L269.22 456.75L270.34 456.43L271.46 456.12L272.58 455.81L273.69 455.5L274.81 455.19L275.93 454.89L277.05 454.59L278.16 454.29L279.28 454L280.4 453.7L281.52 453.42L282.64 453.13L283.75 452.85L284.87 452.57L285.99 452.29L287.11 452.02L288.23 451.75L289.34 451.48L290.46 451.21L291.58 450.95L292.7 450.69L293.81 450.43L294.93 450.18L296.05 449.93L297.17 449.68L298.29 449.43L299.4 449.19L300.52 448.95L301.64 448.71L302.76 448.47L303.88 448.24L304.99 448.01L306.11 447.79L307.23 447.56L308.35 447.34L309.46 447.12L310.58 446.9L311.7 446.69L312.82 446.48L313.94 446.27L315.05 446.06L316.17 445.85L317.29 445.65L318.41 445.45L319.52 445.26L320.64 445.06L321.76 444.87L322.88 444.68L324 444.49L325.11 444.31L326.23 444.12L327.35 443.94L328.47 443.77L329.59 443.59L330.7 443.42L331.82 443.24L332.94 443.08L334.06 442.91L335.17 442.74L336.29 442.58L337.41 442.42L338.53 442.26L339.65 442.11L340.76 441.95L341.88 441.8L343 441.65L344.12 441.5L345.23 441.35L346.35 441.21L347.47 441.07L348.59 440.93L349.71 440.79L350.82 440.65L351.94 440.52L353.06 440.38L354.18 440.25L355.3 440.12L356.41 440L357.53 439.87L358.65 439.75L359.77 439.63L360.88 439.51L362 439.39L363.12 439.27L364.24 439.15L365.36 439.04L366.47 438.93L367.59 438.82L368.71 438.71L369.83 438.6L370.95 438.5L372.06 438.39L373.18 438.29L374.3 438.19L375.42 438.09L376.53 437.99L377.65 437.89L378.77 437.8L379.89 437.71L381.01 437.61L382.12 437.52L383.24 437.43L384.36 437.34L385.48 437.26L386.59 437.17L387.71 437.09L388.83 437L389.95 436.92L391.07 436.84L392.18 436.76L393.3 436.68L394.42 436.61L395.54 436.53L396.66 436.46L397.77 436.38L398.89 436.31L400.01 436.24L401.13 436.17L402.24 436.1L403.36 436.03L404.48 435.97L405.6 435.9L406.72 435.83L407.83 435.77L408.95 435.71L410.07 435.65L411.19 435.59L412.3 435.53L413.42 435.47L414.54 435.41L415.66 435.35L416.78 435.3L417.89 435.24L419.01 435.19L420.13 435.13L421.25 435.08L422.37 435.03L423.48 434.98L424.6 434.93L425.72 434.88L426.84 434.83L427.95 434.78L429.07 434.74L430.19 434.69L431.31 434.65L432.43 434.6L433.54 434.56L434.66 434.51L435.78 434.47L436.9 434.43L438.01 434.39L439.13 434.35L440.25 434.31L441.37 434.27L442.49 434.23L443.6 434.2L444.72 434.16L445.84 434.12L446.96 434.09L448.08 434.05L449.19 434.02L450.31 433.98L451.43 433.95L452.55 433.92L453.66 433.89L454.78 433.85L455.9 433.82L457.02 433.79L458.14 433.76L459.25 433.73L460.37 433.7L461.49 433.68L462.61 433.65L463.73 433.62L464.84 433.59L465.96 433.57L467.08 433.54L468.2 433.51L469.31 433.49L470.43 433.46L471.55 433.44L472.67 433.42L473.79 433.39L474.9 433.37L476.02 433.35L477.14 433.33L478.26 433.3L479.37 433.28L480.49 433.26L481.61 433.24L482.73 433.22L483.85 433.2L484.96 433.18L486.08 433.16L487.2 433.14L488.32 433.12L489.44 433.11L490.55 433.09L491.67 433.07L492.79 433.05L493.91 433.04L495.02 433.02L496.14 433L497.26 432.99L498.38 432.97L499.5 432.96L500.61 432.94L501.73 432.93L502.85 432.91L503.97 432.9L505.09 432.88L506.2 432.87L507.32 432.86L508.44 432.84L509.56 432.83L510.67 432.82L511.79 432.81L512.91 432.79L514.03 432.78L515.15 432.77L516.26 432.76L517.38 432.75L518.5 432.74L519.62 432.73L520.73 432.72L521.85 432.7L522.97 432.69L524.09 432.68L525.21 432.67L526.32 432.66L527.44 432.66L528.56 432.65L529.68 432.64L530.8 432.63L531.91 432.62L533.03 432.61L534.15 432.6L535.27 432.59L536.38 432.59L537.5 432.58L538.62 432.57L539.74 432.56L540.86 432.56L541.97 432.55L543.09 432.54L544.21 432.53L545.33 432.53L546.44 432.52L547.56 432.51L548.68 432.51L549.8 432.5L550.92 432.49L552.03 432.49L553.15 432.48L554.27 432.48L555.39 432.47L556.51 432.47L557.62 432.46L558.74 432.45L559.86 432.45L560.98 432.44L562.09 432.44L563.21 432.43L564.33 432.43L565.45 432.43L566.57 432.42L567.68 432.42L568.8 432.41L569.92 432.41L571.04 432.4L572.15 432.4L573.27 432.4L574.39 432.39L575.51 432.39L576.63 432.38L577.74 432.38L578.86 432.38L579.98 432.37L581.1 432.37L582.22 432.37L583.33 432.36L584.45 432.36L585.57 432.36L586.69 432.35L587.8 432.35L588.92 432.35L590.04 432.34L591.16 432.34L592.28 432.34L593.39 432.34L594.51 432.33L595.63 432.33L596.75 432.33L597.87 432.33L598.98 432.32L600.1 432.32L601.22 432.32L602.34 432.32L603.45 432.32L604.57 432.31L605.69 432.31L606.81 432.31L607.93 432.31L609.04 432.31L610.16 432.3L611.28 432.3L612.4 432.3L613.51 432.3L614.63 432.3L615.75 432.29L616.87 432.29L617.99 432.29L619.1 432.29L620.22 432.29L621.34 432.29L622.46 432.29L623.58 432.28L624.69 432.28L625.81 432.28L626.93 432.28L628.05 432.28L629.16 432.28L630.28 432.28L631.4 432.28L632.52 432.28L633.64 432.27L634.75 432.27L635.87 432.27L636.99 432.27L638.11 432.27L639.22 432.27L640.34 432.27L641.46 432.27L642.58 432.27L643.7 432.27L644.81 432.27L645.93 432.26L647.05 432.26L648.17 432.26L649.29 432.26L650.4 432.26L651.52 432.26L652.64 432.26L653.76 432.26L654.87 432.26L655.99 432.26L657.11 432.26L658.23 432.26L659.35 432.26L660.46 432.26L661.58 432.26L662.7 432.26L663.82 432.26L664.94 432.26L666.05 432.26L667.17 432.26L668.29 432.25L669.41 432.25L670.52 432.25L671.64 432.25L672.76 432.25L673.88 432.25L675 432.25L676.11 432.25L677.23 432.25L678.35 432.25L679.47 432.25L680.58 432.25L681.7 432.25L682.82 432.25L683.94 432.25L685.06 432.25L686.17 432.25L687.29 432.25L688.41 432.25L689.53 432.25L690.65 432.25L691.76 432.25L692.88 432.25L694 432.25L695.12 432.25L696.23 432.25L697.35 432.25L698.47 432.25L699.59 432.25L700.71 432.25L701.82 432.25L702.94 432.25L704.06 432.25L705.18 432.25L706.3 432.25L707.41 432.25L708.53 432.25L709.65 432.25L710.77 432.25L711.88 432.25L713 432.25L714.12 432.25L715.24 432.25L716.36 432.25L717.47 432.25L718.59 432.25L719.71 432.25L720.83 432.25L721.94 432.25L723.06 432.25L724.18 432.25L725.3 432.25L726.42 432.25L727.53 432.25L728.65 432.25L729.77 432.25L730.89 432.25L732.01 432.25L733.12 432.25L734.24 432.25L735.36 432.25L736.48 432.25L737.59 432.25L738.71 432.25L739.83 432.25L740.95 432.25L742.07 432.25L743.18 432.25L744.3 432.25L745.42 432.25L746.54 432.25L747.65 432.25L748.77 432.25L749.89 432.25L751.01 432.25L752.13 432.25L753.24 432.26L754.36 432.26L755.48 432.26L756.6 432.26L757.72 432.26L758.83 432.26L759.95 432.26L761.07 432.26L762.19 432.26L763.3 432.26L764.42 432.26L765.54 432.26L766.66 432.26L767.78 432.26L768.89 432.26L770.01 432.26L771.13 432.26L772.25 432.26L773.37 432.26L774.48 432.26L775.6 432.26L776.72 432.26L777.84 432.26L778.95 432.26L780.07 432.26L781.19 432.26L782.31 432.26L783.43 432.26L784.54 432.26L785.66 432.26L786.78 432.26L787.9 432.26L789.01 432.26L790.13 432.26L791.25 432.26L792.37 432.26L793.49 432.26L794.6 432.26L795.72 432.26L796.84 432.26L797.96 432.26L799.08 432.26L800.19 432.26L801.31 432.26L802.43 432.26L803.55 432.26L804.66 432.26L805.78 432.26L806.9 432.26" stroke="#0080ff"/>
<path d="M136.2 457.5L806.9 457.5" stroke="#4000ff"/>
</g>
<g stroke="#000" stroke-width="2.2" fill="none">
<rect x="136.2" y="7.1" width="670.7" height="459.09999999999997"/>
<path d="M136.2 457.5H146.5"/>
<path d="M136.2 412.88H142.2"/>
<path d="M136.2 368.26H146.5"/>
<path d="M136.2 323.64H142.2"/>
<path d="M136.2 279.02H146.5"/>
<path d="M136.2 234.4H142.2"/>
<path d="M136.2 189.78H146.5"/>
<path d="M136.2 145.16H142.2"/>
<path d="M136.2 100.54H146.5"/>
<path d="M136.2 55.92H142.2"/>
<path d="M136.2 11.3H146.5"/>
<path d="M136.2 466.2V455.9"/>
<path d="M169.73 466.2V460.2"/>
<path d="M203.27 466.2V455.9"/>
<path d="M236.81 466.2V460.2"/>
<path d="M270.34 466.2V455.9"/>
<path d="M303.88 466.2V460.2"/>
<path d="M337.41 466.2V455.9"/>
<path d="M370.95 466.2V460.2"/>
<path d="M404.48 466.2V455.9"/>
<path d="M438.01 466.2V460.2"/>
<path d="M471.55 466.2V455.9"/>
<path d="M505.09 466.2V460.2"/>
<path d="M538.62 466.2V455.9"/>
<path d="M572.15 466.2V460.2"/>
<path d="M605.69 466.2V455.9"/>
<path d="M639.22 466.2V460.2"/>
<path d="M672.76 466.2V455.9"/>
<path d="M706.3 466.2V460.2"/>
<path d="M739.83 466.2V455.9"/>
<path d="M773.37 466.2V460.2"/>
<path d="M806.9 466.2V455.9"/>
</g>
<g font-family="'Liberation Serif','Times New Roman',serif" fill="#000">
<text transform="translate(85.98 467.3) scale(0.9650 1)" font-size="32">0.0</text>
<text transform="translate(86.5 378.06) scale(0.9650 1)" font-size="32">0.2</text>
<text transform="translate(85.28 288.82) scale(0.9650 1)" font-size="32">0.4</text>
<text transform="translate(85.72 199.58) scale(0.9650 1)" font-size="32">0.6</text>
<text transform="translate(85.98 110.34) scale(0.9650 1)" font-size="32">0.8</text>
<text transform="translate(85.98 21.1) scale(0.9650 1)" font-size="32">1.0</text>
<text transform="translate(128.49 501.8) scale(0.9650 1)" font-size="32">5</text>
<text transform="translate(195.65 501.8) scale(0.9650 1)" font-size="32">6</text>
<text transform="translate(262.35 501.8) scale(0.9650 1)" font-size="32">7</text>
<text transform="translate(329.99 501.8) scale(0.9650 1)" font-size="32">8</text>
<text transform="translate(397.2 501.8) scale(0.9650 1)" font-size="32">9</text>
<text transform="translate(455.64 501.8) scale(0.9650 1)" font-size="32">10</text>
<text transform="translate(523.05 501.8) scale(0.9650 1)" font-size="32">11</text>
<text transform="translate(590.04 501.8) scale(0.9650 1)" font-size="32">12</text>
<text transform="translate(656.87 501.8) scale(0.9650 1)" font-size="32">13</text>
<text transform="translate(723.57 501.8) scale(0.9650 1)" font-size="32">14</text>
<text transform="translate(791.01 501.8) scale(0.9650 1)" font-size="32">15</text>
</g>
<text font-family="'Liberation Serif','Times New Roman',serif" font-size="36" x="472" y="541.4" text-anchor="middle"><tspan font-style="italic">U</tspan> (meV)</text>
<text font-family="'Liberation Serif','Times New Roman',serif" font-size="36" font-style="italic" transform="translate(72.8 237.5) rotate(-90)" text-anchor="middle">R</text>
<g font-family="'Liberation Serif','Times New Roman',serif" fill="#000">
<text transform="translate(160.71 45) scale(1.0344 1)" font-size="35">(a)</text>
</g>
<g font-family="'Liberation Serif','Times New Roman',serif" fill="#000">
<path d="M613.65 60.7H684.15" stroke="#ff0000" stroke-width="4.7" stroke-linecap="round"/>
<text x="693.56" y="74.2" font-size="36">P</text>
<text transform="translate(717.55 72.76) scale(1.0864 0.8000)" font-size="36">=</text>
<text x="741.04" y="74.2" font-size="36">1</text>
<path d="M613.65 104.17H684.15" stroke="#ff6600" stroke-width="4.7" stroke-linecap="round"/>
<text x="693.56" y="117.67" font-size="36">P</text>
<text transform="translate(717.55 116.23) scale(1.0864 0.8000)" font-size="36">=</text>
<text x="742.83" y="117.67" font-size="36">0.9</text>
<path d="M613.65 147.64H684.15" stroke="#ffe600" stroke-width="4.7" stroke-linecap="round"/>
<text x="693.56" y="161.14" font-size="36">P</text>
<text transform="translate(717.55 159.7) scale(1.0864 0.8000)" font-size="36">=</text>
<text x="742.83" y="161.14" font-size="36">0.7</text>
<path d="M613.65 191.11H684.15" stroke="#00f000" stroke-width="4.7" stroke-linecap="round"/>
<text x="693.56" y="204.61" font-size="36">P</text>
<text transform="translate(717.55 203.17) scale(1.0864 0.8000)" font-size="36">=</text>
<text x="742.83" y="204.61" font-size="36">0.5</text>
<path d="M613.65 234.58H684.15" stroke="#0080ff" stroke-width="4.7" stroke-linecap="round"/>
<text x="693.56" y="248.08" font-size="36">P</text>
<text transform="translate(717.55 246.64) scale(1.0864 0.8000)" font-size="36">=</text>
<text x="742.83" y="248.08" font-size="36">0.3</text>
<path d="M613.65 278.05H684.15" stroke="#4000ff" stroke-width="4.7" stroke-linecap="round"/>
<text x="693.56" y="291.55" font-size="36">P</text>
<text transform="translate(717.55 290.11) scale(1.0864 0.8000)" font-size="36">=</text>
<text x="742.83" y="291.55" font-size="36">0</text>
</g>
<g clip-path="url(#cb)" fill="none" stroke-width="4.7" stroke-linejoin="round">
<path d="M136.48 1018.47L137.01 1016.67L137.53 1014.87L138.04 1013.07L138.52 1011.26L139 1009.45L139.46 1007.64L139.91 1005.83L140.34 1004.01L140.77 1002.19L141.18 1000.37L141.58 998.54L141.96 996.71L142.34 994.88L142.7 993.05L143.05 991.22L143.4 989.38L143.73 987.54L144.05 985.7L144.37 983.86L144.67 982.02L144.97 980.17L145.26 978.33L145.54 976.48L145.81 974.63L146.07 972.77L146.33 970.92L146.58 969.07L146.83 967.21L147.07 965.35L147.3 963.5L147.53 961.64L147.76 959.78L147.97 957.92L148.19 956.05L148.4 954.19L148.61 952.33L148.81 950.47L149.01 948.6L149.21 946.74L149.41 944.87L149.6 943L149.8 941.14L149.99 939.27L150.18 937.41L150.37 935.54L150.56 933.67L150.75 931.81L150.94 929.94L151.13 928.07L151.33 926.21L151.52 924.34L151.72 922.48L151.92 920.61L152.12 918.75L152.32 916.88L152.53 915.02L152.74 913.16L152.95 911.3L153.17 909.44L153.39 907.57L153.61 905.71L153.84 903.86L154.06 902L154.3 900.14L154.53 898.28L154.78 896.42L155.02 894.57L155.27 892.71L155.52 890.86L155.78 889L156.04 887.15L156.3 885.3L156.57 883.45L156.85 881.6L157.13 879.75L157.41 877.9L157.7 876.05L157.99 874.2L158.29 872.35L158.59 870.51L158.9 868.66L159.21 866.82L159.53 864.98L159.85 863.13L160.18 861.29L160.52 859.45L160.86 857.61L161.2 855.77L161.56 853.93L161.91 852.1L162.28 850.26L162.65 848.42L163.02 846.59L163.4 844.76L163.79 842.92L164.19 841.09L164.59 839.26L165 837.43L165.42 835.61L165.84 833.78L166.27 831.96L166.72 830.13L167.17 828.32L167.63 826.5L168.1 824.69L168.58 822.87L169.07 821.07L169.57 819.26L170.09 817.46L170.61 815.66L171.15 813.87L171.7 812.08L172.26 810.29L172.83 808.51L173.42 806.73L174.03 804.96L174.64 803.19L175.27 801.43L175.92 799.67L176.58 797.92L177.26 796.17L177.95 794.43L178.66 792.7L179.39 790.97L180.13 789.24L180.89 787.53L181.67 785.82L182.46 784.11L183.28 782.42L184.11 780.74L184.96 779.06L185.83 777.39L186.72 775.74L187.62 774.09L188.55 772.46L189.49 770.84L190.46 769.23L191.44 767.63L192.45 766.05L193.47 764.49L194.51 762.93L195.58 761.4L196.66 759.88L197.77 758.38L198.89 756.89L200.04 755.42L201.21 753.98L202.4 752.54L203.61 751.13L204.83 749.73L206.08 748.35L207.34 746.99L208.62 745.64L209.92 744.3L211.23 742.98L212.56 741.68L213.91 740.38L215.27 739.11L216.64 737.84L218.02 736.59L219.42 735.35L220.84 734.12L222.26 732.9L223.69 731.69L225.14 730.49L226.59 729.31L228.06 728.13L229.53 726.96L231.01 725.8L232.5 724.65L234 723.51L235.5 722.38L237.02 721.26L238.54 720.15L240.07 719.05L241.61 717.95L243.15 716.87L244.71 715.8L246.27 714.75L247.84 713.7L249.41 712.66L250.99 711.64L252.58 710.62L254.18 709.62L255.78 708.63L257.39 707.65L259.01 706.69L260.63 705.73L262.26 704.79L263.9 703.87L265.54 702.95L267.19 702.05L268.84 701.16L270.5 700.29L272.17 699.43L273.84 698.58L275.52 697.75L277.2 696.93L278.89 696.13L280.58 695.34L282.28 694.56L283.98 693.79L285.69 693.04L287.4 692.3L289.12 691.57L290.84 690.86L292.57 690.16L294.31 689.47L296.04 688.79L297.78 688.13L299.53 687.48L301.28 686.84L303.04 686.21L304.8 685.59L306.56 684.98L308.33 684.39L310.1 683.8L311.87 683.23L313.65 682.67L315.44 682.12L317.22 681.58L319.01 681.05L320.8 680.53L322.6 680.02L324.4 679.52L326.2 679.03L328.01 678.55L329.82 678.08L331.63 677.62L333.45 677.17L335.27 676.73L337.09 676.29L338.91 675.87L340.74 675.46L342.56 675.05L344.39 674.65L346.23 674.26L348.06 673.88L349.9 673.51L351.74 673.14L353.58 672.79L355.43 672.44L357.27 672.1L359.12 671.76L360.97 671.44L362.82 671.12L364.67 670.8L366.52 670.5L368.38 670.2L370.23 669.91L372.09 669.62L373.95 669.34L375.81 669.07L377.67 668.8L379.53 668.54L381.39 668.29L383.25 668.04L385.11 667.8L386.98 667.56L388.84 667.33L390.7 667.1L392.57 666.88L394.43 666.66L396.3 666.45L398.16 666.24L400.03 666.03L401.89 665.84L403.76 665.64L405.62 665.45L407.48 665.26L409.35 665.08L411.21 664.9L413.07 664.73L414.94 664.55L416.8 664.39L418.66 664.22L420.52 664.06L422.39 663.9L424.25 663.75L426.11 663.59L427.97 663.45L429.84 663.3L431.7 663.16L433.56 663.02L435.42 662.88L437.29 662.74L439.15 662.61L441.01 662.48L442.87 662.35L444.74 662.23L446.6 662.1L448.46 661.98L450.33 661.86L452.19 661.74L454.06 661.62L455.92 661.51L457.79 661.39L459.65 661.28L461.52 661.17L463.38 661.06L465.25 660.95L467.12 660.85L468.99 660.74L470.85 660.63L472.72 660.53L474.59 660.42L476.46 660.32L478.33 660.22L480.21 660.12L482.08 660.01L483.95 659.91L485.82 659.81L487.7 659.71L489.57 659.6L491.45 659.5L493.33 659.4L495.2 659.29L497.08 659.19L498.95 659.08L500.83 658.97L502.71 658.86L504.59 658.75L506.46 658.64L508.34 658.52L510.22 658.4L512.09 658.28L513.97 658.16L515.85 658.03L517.72 657.9L519.6 657.77L521.47 657.64L523.35 657.5L525.22 657.35L527.1 657.21L528.97 657.06L530.84 656.9L532.71 656.74L534.58 656.58L536.45 656.41L538.32 656.23L540.19 656.05L542.06 655.87L543.92 655.68L545.79 655.48L547.65 655.28L549.51 655.07L551.37 654.86L553.23 654.64L555.09 654.41L556.95 654.18L558.8 653.94L560.65 653.69L562.5 653.44L564.35 653.18L566.2 652.91L568.05 652.64L569.9 652.36L571.74 652.07L573.59 651.78L575.43 651.48L577.27 651.18L579.11 650.86L580.95 650.55L582.78 650.23L584.62 649.9L586.45 649.56L588.28 649.22L590.12 648.87L591.95 648.52L593.78 648.17L595.61 647.8L597.43 647.43L599.26 647.06L601.09 646.68L602.91 646.29L604.73 645.9L606.55 645.51L608.38 645.11L610.2 644.7L612.02 644.29L613.83 643.87L615.65 643.45L617.47 643.02L619.28 642.59L621.1 642.16L622.91 641.72L624.73 641.27L626.54 640.82L628.35 640.36L630.16 639.91L631.97 639.44L633.78 638.97L635.59 638.5L637.4 638.02L639.2 637.54L641.01 637.06L642.82 636.57L644.62 636.07L646.43 635.57L648.23 635.07L650.03 634.56L651.84 634.05L653.64 633.54L655.44 633.02L657.24 632.5L659.04 631.98L660.85 631.45L662.65 630.91L664.45 630.38L666.24 629.84L668.04 629.3L669.84 628.75L671.64 628.2L673.44 627.65L675.24 627.09L677.03 626.53L678.83 625.97L680.63 625.41L682.43 624.84L684.22 624.27L686.02 623.69L687.82 623.12L689.61 622.54L691.41 621.95L693.2 621.37L695 620.78L696.8 620.19L698.59 619.6L700.39 619L702.18 618.41L703.98 617.81L705.77 617.21L707.57 616.6L709.37 615.99L711.16 615.39L712.96 614.78L714.76 614.17L716.55 613.58L718.35 612.99L720.15 612.41L721.95 611.84L723.75 611.29L725.56 610.76L727.36 610.25L729.17 609.77L730.98 609.32L732.79 608.89L734.6 608.5L736.42 608.14L738.23 607.82L740.06 607.54L741.88 607.31L743.71 607.12L745.54 606.98L747.37 606.89L749.21 606.86L751.06 606.88L752.9 606.96L754.75 607.11L756.61 607.32L758.46 607.6L760.3 607.95L762.12 608.38L763.92 608.88L765.68 609.46L767.42 610.13L769.1 610.88L770.75 611.72L772.34 612.64L773.87 613.65L775.36 614.73L776.78 615.89L778.14 617.12L779.43 618.43L780.66 619.81L781.83 621.25L782.93 622.75L783.97 624.31L784.95 625.91L785.88 627.56L786.76 629.24L787.6 630.96L788.39 632.71L789.15 634.48L789.87 636.26L790.58 638.06L791.27 639.86L791.94 641.67L792.61 643.48L793.28 645.27L793.95 647.06L794.64 648.83L795.35 650.57L796.07 652.29L796.83 653.97L797.62 655.62L798.45 657.23L799.33 658.78L800.27 660.29L807.5 660.29" stroke="#ff0000"/>
<path d="M135.67 820.41L136.59 819.15L137.46 817.87L138.27 816.57L139.04 815.25L139.76 813.92L140.44 812.57L141.07 811.21L141.67 809.83L142.23 808.44L142.76 807.04L143.25 805.62L143.72 804.2L144.15 802.76L144.57 801.31L144.95 799.86L145.32 798.39L145.67 796.92L146.01 795.45L146.33 793.97L146.63 792.48L146.93 790.99L147.22 789.5L147.51 788L147.79 786.5L148.08 785.01L148.36 783.51L148.65 782.01L148.95 780.52L149.26 779.03L149.57 777.54L149.9 776.05L150.24 774.57L150.6 773.1L150.97 771.63L151.36 770.16L151.76 768.7L152.17 767.25L152.6 765.8L153.04 764.36L153.5 762.92L153.97 761.48L154.46 760.06L154.96 758.64L155.48 757.22L156.01 755.82L156.56 754.41L157.12 753.02L157.69 751.63L158.29 750.25L158.89 748.88L159.51 747.51L160.15 746.16L160.81 744.8L161.48 743.46L162.16 742.13L162.86 740.8L163.58 739.48L164.31 738.17L165.06 736.87L165.83 735.58L166.61 734.29L167.41 733.02L168.22 731.75L169.05 730.49L169.9 729.24L170.76 728.01L171.64 726.78L172.54 725.56L173.46 724.35L174.39 723.15L175.34 721.96L176.3 720.78L177.28 719.62L178.28 718.46L179.3 717.32L180.33 716.19L181.38 715.07L182.45 713.96L183.53 712.87L184.62 711.8L185.73 710.74L186.85 709.69L187.99 708.66L189.14 707.65L190.31 706.66L191.49 705.69L192.68 704.73L193.89 703.8L195.11 702.88L196.34 701.99L197.58 701.12L198.83 700.27L200.1 699.44L201.37 698.64L202.66 697.85L203.96 697.09L205.27 696.35L206.58 695.64L207.91 694.94L209.24 694.25L210.59 693.59L211.94 692.95L213.3 692.32L214.67 691.71L216.05 691.11L217.43 690.53L218.82 689.96L220.22 689.41L221.62 688.87L223.03 688.34L224.44 687.82L225.86 687.32L227.28 686.82L228.71 686.33L230.14 685.86L231.58 685.39L233.02 684.93L234.46 684.47L235.91 684.02L237.35 683.58L238.8 683.14L240.26 682.71L241.71 682.28L243.17 681.85L244.62 681.43L246.08 681.01L247.53 680.59L248.99 680.17L250.45 679.76L251.91 679.35L253.37 678.94L254.84 678.54L256.3 678.14L257.76 677.74L259.23 677.34L260.69 676.96L262.16 676.57L263.63 676.19L265.09 675.81L266.56 675.44L268.03 675.07L269.51 674.71L270.98 674.35L272.45 673.99L273.93 673.65L275.4 673.3L276.88 672.96L278.35 672.63L279.83 672.31L281.31 671.98L282.79 671.67L284.27 671.36L285.75 671.06L287.24 670.76L288.72 670.47L290.21 670.19L291.69 669.92L293.18 669.65L294.67 669.39L296.16 669.13L297.65 668.88L299.14 668.64L300.63 668.41L302.13 668.18L303.62 667.96L305.12 667.75L306.61 667.54L308.11 667.34L309.61 667.15L311.11 666.96L312.61 666.78L314.11 666.6L315.61 666.43L317.11 666.26L318.61 666.1L320.12 665.95L321.62 665.8L323.12 665.65L324.63 665.51L326.13 665.37L327.64 665.24L329.15 665.12L330.66 664.99L332.16 664.87L333.67 664.76L335.18 664.64L336.69 664.54L338.2 664.43L339.71 664.33L341.22 664.23L342.73 664.13L344.24 664.04L345.75 663.95L347.26 663.87L348.78 663.78L350.29 663.7L351.8 663.62L353.31 663.54L354.82 663.46L356.34 663.39L357.85 663.32L359.36 663.24L360.87 663.17L362.39 663.1L363.9 663.04L365.41 662.97L366.93 662.91L368.44 662.84L369.95 662.78L371.46 662.72L372.98 662.66L374.49 662.6L376 662.54L377.52 662.48L379.03 662.42L380.54 662.37L382.06 662.31L383.57 662.26L385.08 662.21L386.59 662.16L388.11 662.11L389.62 662.06L391.13 662.01L392.65 661.96L394.16 661.91L395.67 661.87L397.19 661.82L398.7 661.78L400.21 661.73L401.72 661.69L403.24 661.65L404.75 661.61L406.26 661.56L407.78 661.52L409.29 661.49L410.8 661.45L412.32 661.41L413.83 661.37L415.34 661.33L416.86 661.3L418.37 661.26L419.88 661.23L421.4 661.19L422.91 661.16L424.42 661.13L425.93 661.09L427.45 661.06L428.96 661.03L430.47 661L431.99 660.96L433.5 660.93L435.01 660.9L436.53 660.87L438.04 660.84L439.55 660.81L441.07 660.78L442.58 660.76L444.09 660.73L445.6 660.7L447.12 660.67L448.63 660.64L450.14 660.62L451.66 660.59L453.17 660.56L454.68 660.53L456.2 660.51L457.71 660.48L459.22 660.45L460.73 660.43L462.25 660.4L463.76 660.37L465.27 660.35L466.79 660.32L468.3 660.29L469.81 660.27L471.32 660.24L472.84 660.21L474.35 660.19L475.86 660.16L477.37 660.13L478.89 660.11L480.4 660.08L481.91 660.05L483.42 660.02L484.94 660L486.45 659.97L487.96 659.94L489.47 659.91L490.99 659.88L492.5 659.85L494.01 659.82L495.52 659.79L497.04 659.76L498.55 659.73L500.06 659.7L501.57 659.67L503.08 659.64L504.6 659.61L506.11 659.57L507.62 659.54L509.13 659.51L510.65 659.47L512.16 659.44L513.67 659.4L515.18 659.37L516.69 659.33L518.2 659.29L519.72 659.26L521.23 659.22L522.74 659.18L524.25 659.14L525.76 659.1L527.27 659.06L528.79 659.02L530.3 658.98L531.81 658.93L533.32 658.89L534.83 658.84L536.34 658.8L537.85 658.75L539.37 658.71L540.88 658.66L542.39 658.61L543.9 658.56L545.41 658.51L546.92 658.46L548.43 658.4L549.94 658.35L551.45 658.3L552.96 658.24L554.47 658.18L555.98 658.13L557.5 658.07L559.01 658.01L560.52 657.95L562.03 657.88L563.54 657.82L565.05 657.76L566.56 657.69L568.07 657.63L569.58 657.56L571.09 657.49L572.6 657.42L574.11 657.35L575.62 657.27L577.13 657.2L578.64 657.13L580.15 657.05L581.66 656.97L583.17 656.89L584.68 656.81L586.18 656.73L587.69 656.64L589.2 656.56L590.71 656.47L592.22 656.39L593.73 656.3L595.24 656.2L596.75 656.11L598.26 656.02L599.77 655.92L601.27 655.83L602.78 655.73L604.29 655.63L605.8 655.52L607.31 655.42L608.82 655.32L610.33 655.21L611.83 655.1L613.34 654.99L614.85 654.88L616.36 654.76L617.87 654.65L619.37 654.53L620.88 654.41L622.39 654.29L623.9 654.17L625.4 654.04L626.91 653.92L628.42 653.79L629.93 653.66L631.43 653.52L632.94 653.39L634.45 653.25L635.95 653.12L637.46 652.98L638.97 652.83L640.47 652.69L641.98 652.54L643.49 652.39L644.99 652.24L646.5 652.09L648.01 651.94L649.51 651.78L651.02 651.62L652.52 651.46L654.03 651.3L655.53 651.13L657.04 650.96L658.55 650.79L660.05 650.62L661.56 650.44L663.06 650.27L664.57 650.09L666.07 649.91L667.58 649.72L669.08 649.54L670.59 649.35L672.09 649.16L673.6 648.96L675.1 648.77L676.6 648.57L678.11 648.37L679.61 648.16L681.12 647.96L682.62 647.75L684.12 647.54L685.63 647.32L687.13 647.11L688.64 646.89L690.14 646.67L691.64 646.44L693.15 646.22L694.65 645.99L696.15 645.75L697.65 645.52L699.16 645.28L700.66 645.04L702.16 644.8L703.66 644.55L705.17 644.3L706.67 644.05L708.17 643.8L709.67 643.54L711.17 643.28L712.68 643.02L714.18 642.76L715.68 642.49L717.18 642.23L718.68 641.97L720.18 641.72L721.68 641.47L723.18 641.22L724.68 640.97L726.18 640.73L727.68 640.5L729.18 640.28L730.67 640.06L732.17 639.86L733.67 639.66L735.17 639.47L736.66 639.3L738.16 639.13L739.65 638.98L741.14 638.85L742.64 638.73L744.13 638.62L745.62 638.53L747.11 638.46L748.6 638.41L750.09 638.37L751.58 638.35L753.07 638.36L754.56 638.38L756.04 638.43L757.53 638.5L759.01 638.6L760.49 638.72L761.98 638.86L763.46 639.03L764.94 639.22L766.42 639.45L767.9 639.7L769.37 639.98L770.85 640.3L772.32 640.64L773.8 641.01L775.27 641.42L776.73 641.87L778.18 642.36L779.6 642.9L781.01 643.5L782.38 644.16L783.71 644.88L785 645.67L786.24 646.55L787.43 647.49L788.57 648.5L789.69 649.56L790.78 650.64L791.86 651.74L792.92 652.85L793.99 653.96L795.05 655.06L796.1 656.15L797.16 657.22L798.22 658.28L799.29 659.31L800.36 660.32L807.5 660.32" stroke="#ff6600"/>
<path d="M136.29 728.35L137.59 727.69L138.79 726.95L139.9 726.14L140.93 725.26L141.89 724.31L142.77 723.3L143.6 722.25L144.38 721.14L145.11 720L145.8 718.83L146.46 717.63L147.1 716.41L147.71 715.17L148.32 713.92L148.93 712.67L149.53 711.41L150.15 710.16L150.78 708.92L151.44 707.69L152.12 706.49L152.84 705.31L153.6 704.16L154.38 703.03L155.2 701.93L156.05 700.86L156.93 699.81L157.84 698.78L158.78 697.78L159.74 696.8L160.73 695.85L161.75 694.92L162.78 694.01L163.84 693.13L164.92 692.26L166.01 691.42L167.13 690.6L168.26 689.8L169.41 689.02L170.57 688.26L171.75 687.53L172.94 686.81L174.14 686.11L175.35 685.43L176.57 684.77L177.79 684.13L179.02 683.5L180.26 682.9L181.51 682.31L182.76 681.73L184.01 681.18L185.28 680.64L186.55 680.12L187.82 679.61L189.1 679.12L190.38 678.64L191.67 678.18L192.97 677.73L194.27 677.3L195.57 676.88L196.88 676.47L198.19 676.08L199.51 675.7L200.83 675.33L202.16 674.97L203.49 674.63L204.82 674.3L206.15 673.98L207.49 673.66L208.84 673.36L210.18 673.07L211.53 672.79L212.88 672.52L214.24 672.26L215.59 672L216.95 671.76L218.32 671.52L219.68 671.29L221.04 671.07L222.41 670.85L223.78 670.64L225.15 670.44L226.52 670.24L227.9 670.05L229.27 669.87L230.65 669.68L232.02 669.51L233.4 669.34L234.78 669.17L236.15 669.01L237.53 668.84L238.91 668.69L240.29 668.53L241.66 668.38L243.04 668.23L244.42 668.08L245.8 667.94L247.18 667.8L248.55 667.66L249.93 667.52L251.31 667.39L252.69 667.26L254.07 667.13L255.44 667L256.82 666.88L258.2 666.76L259.58 666.64L260.96 666.52L262.33 666.41L263.71 666.29L265.09 666.18L266.47 666.07L267.85 665.97L269.22 665.86L270.6 665.76L271.98 665.66L273.36 665.56L274.74 665.47L276.12 665.37L277.49 665.28L278.87 665.19L280.25 665.1L281.63 665.01L283.01 664.92L284.39 664.84L285.76 664.76L287.14 664.68L288.52 664.6L289.9 664.52L291.28 664.44L292.66 664.37L294.04 664.29L295.41 664.22L296.79 664.15L298.17 664.08L299.55 664.01L300.93 663.95L302.31 663.88L303.69 663.82L305.07 663.75L306.44 663.69L307.82 663.63L309.2 663.57L310.58 663.51L311.96 663.45L313.34 663.39L314.72 663.34L316.1 663.28L317.48 663.22L318.85 663.17L320.23 663.12L321.61 663.06L322.99 663.01L324.37 662.96L325.75 662.91L327.13 662.86L328.51 662.81L329.89 662.76L331.27 662.72L332.65 662.67L334.03 662.62L335.41 662.58L336.78 662.53L338.16 662.49L339.54 662.45L340.92 662.4L342.3 662.36L343.68 662.32L345.06 662.28L346.44 662.24L347.82 662.2L349.2 662.16L350.58 662.12L351.96 662.09L353.34 662.05L354.72 662.01L356.1 661.98L357.48 661.94L358.86 661.91L360.24 661.88L361.62 661.84L363 661.81L364.38 661.78L365.76 661.75L367.14 661.72L368.52 661.69L369.89 661.66L371.27 661.63L372.65 661.6L374.03 661.57L375.41 661.54L376.79 661.51L378.17 661.49L379.55 661.46L380.93 661.44L382.31 661.41L383.69 661.39L385.07 661.36L386.45 661.34L387.83 661.31L389.21 661.29L390.59 661.27L391.97 661.25L393.35 661.23L394.73 661.2L396.12 661.18L397.5 661.16L398.88 661.14L400.26 661.12L401.64 661.1L403.02 661.09L404.4 661.07L405.78 661.05L407.16 661.03L408.54 661.01L409.92 661L411.3 660.98L412.68 660.96L414.06 660.95L415.44 660.93L416.82 660.92L418.2 660.9L419.58 660.89L420.96 660.87L422.34 660.86L423.72 660.84L425.1 660.83L426.48 660.82L427.86 660.8L429.24 660.79L430.62 660.78L432 660.76L433.38 660.75L434.77 660.74L436.15 660.73L437.53 660.72L438.91 660.7L440.29 660.69L441.67 660.68L443.05 660.67L444.43 660.66L445.81 660.65L447.19 660.64L448.57 660.63L449.95 660.62L451.33 660.61L452.71 660.6L454.09 660.59L455.47 660.58L456.86 660.57L458.24 660.56L459.62 660.55L461 660.54L462.38 660.53L463.76 660.52L465.14 660.51L466.52 660.5L467.9 660.49L469.28 660.48L470.66 660.48L472.04 660.47L473.42 660.46L474.81 660.45L476.19 660.44L477.57 660.43L478.95 660.42L480.33 660.41L481.71 660.4L483.09 660.39L484.47 660.39L485.85 660.38L487.23 660.37L488.61 660.36L489.99 660.35L491.38 660.34L492.76 660.33L494.14 660.32L495.52 660.31L496.9 660.3L498.28 660.29L499.66 660.28L501.04 660.27L502.42 660.26L503.8 660.25L505.18 660.24L506.57 660.23L507.95 660.22L509.33 660.21L510.71 660.2L512.09 660.19L513.47 660.18L514.85 660.17L516.23 660.15L517.61 660.14L518.99 660.13L520.37 660.12L521.76 660.1L523.14 660.09L524.52 660.08L525.9 660.07L527.28 660.05L528.66 660.04L530.04 660.02L531.42 660.01L532.8 660L534.18 659.98L535.56 659.97L536.95 659.95L538.33 659.94L539.71 659.92L541.09 659.9L542.47 659.89L543.85 659.87L545.23 659.85L546.61 659.83L547.99 659.82L549.37 659.8L550.75 659.78L552.14 659.76L553.52 659.74L554.9 659.72L556.28 659.7L557.66 659.68L559.04 659.66L560.42 659.64L561.8 659.62L563.18 659.59L564.56 659.57L565.95 659.55L567.33 659.52L568.71 659.5L570.09 659.48L571.47 659.45L572.85 659.42L574.23 659.4L575.61 659.37L576.99 659.35L578.37 659.32L579.75 659.29L581.13 659.26L582.52 659.23L583.9 659.2L585.28 659.17L586.66 659.14L588.04 659.11L589.42 659.08L590.8 659.05L592.18 659.01L593.56 658.98L594.94 658.95L596.32 658.91L597.7 658.88L599.09 658.84L600.47 658.81L601.85 658.77L603.23 658.73L604.61 658.69L605.99 658.65L607.37 658.61L608.75 658.57L610.13 658.53L611.51 658.49L612.89 658.45L614.27 658.41L615.65 658.36L617.03 658.32L618.41 658.27L619.8 658.23L621.18 658.18L622.56 658.13L623.94 658.09L625.32 658.04L626.7 657.99L628.08 657.94L629.46 657.89L630.84 657.83L632.22 657.78L633.6 657.73L634.98 657.68L636.36 657.62L637.74 657.56L639.12 657.51L640.5 657.45L641.88 657.39L643.26 657.33L644.64 657.27L646.03 657.21L647.41 657.15L648.79 657.09L650.17 657.03L651.55 656.96L652.93 656.9L654.31 656.83L655.69 656.77L657.07 656.7L658.45 656.63L659.83 656.56L661.21 656.49L662.59 656.42L663.97 656.35L665.35 656.27L666.73 656.2L668.11 656.13L669.49 656.05L670.87 655.97L672.25 655.9L673.63 655.82L675.01 655.74L676.39 655.66L677.77 655.57L679.15 655.49L680.53 655.41L681.91 655.32L683.29 655.24L684.67 655.15L686.05 655.06L687.43 654.97L688.81 654.88L690.19 654.79L691.57 654.7L692.95 654.61L694.33 654.51L695.71 654.42L697.09 654.32L698.47 654.23L699.85 654.13L701.23 654.04L702.61 653.94L703.99 653.85L705.37 653.75L706.75 653.66L708.13 653.57L709.51 653.47L710.89 653.38L712.26 653.29L713.64 653.2L715.02 653.11L716.4 653.03L717.78 652.94L719.16 652.86L720.54 652.78L721.92 652.7L723.29 652.63L724.67 652.55L726.05 652.48L727.43 652.41L728.81 652.35L730.18 652.28L731.56 652.22L732.94 652.17L734.32 652.12L735.69 652.07L737.07 652.02L738.45 651.98L739.82 651.94L741.2 651.91L742.58 651.88L743.95 651.85L745.33 651.83L746.71 651.82L748.08 651.81L749.46 651.8L750.83 651.8L752.21 651.81L753.58 651.82L754.96 651.84L756.33 651.86L757.71 651.89L759.08 651.92L760.45 651.96L761.83 652.01L763.2 652.06L764.57 652.12L765.95 652.19L767.32 652.26L768.69 652.34L770.06 652.43L771.44 652.52L772.81 652.63L774.18 652.74L775.55 652.85L776.92 652.98L778.29 653.11L779.66 653.26L781.03 653.41L782.4 653.58L783.76 653.76L785.12 653.97L786.47 654.21L787.81 654.49L789.14 654.81L790.46 655.18L791.76 655.6L793.04 656.09L794.31 656.63L795.55 657.25L796.78 657.94L797.98 658.71L799.15 659.57L800.3 660.52L807.5 660.52" stroke="#ffe600"/>
<path d="M136.31 688.86L137.57 688.55L138.81 688.18L140.03 687.75L141.25 687.27L142.45 686.74L143.64 686.17L144.83 685.56L146.01 684.91L147.18 684.25L148.35 683.56L149.52 682.86L150.69 682.15L151.86 681.44L153.03 680.73L154.2 680.02L155.38 679.34L156.56 678.67L157.75 678.02L158.94 677.39L160.15 676.79L161.35 676.21L162.57 675.65L163.79 675.11L165.01 674.59L166.25 674.09L167.48 673.6L168.73 673.14L169.97 672.7L171.23 672.27L172.49 671.86L173.75 671.46L175.02 671.09L176.29 670.73L177.57 670.38L178.85 670.05L180.13 669.73L181.42 669.43L182.71 669.14L184.01 668.87L185.31 668.61L186.62 668.36L187.92 668.12L189.23 667.89L190.55 667.67L191.86 667.47L193.18 667.27L194.5 667.09L195.83 666.91L197.15 666.74L198.48 666.58L199.81 666.43L201.15 666.29L202.48 666.15L203.82 666.02L205.15 665.9L206.49 665.78L207.83 665.66L209.17 665.55L210.51 665.45L211.86 665.35L213.2 665.25L214.55 665.15L215.89 665.06L217.23 664.97L218.58 664.88L219.92 664.79L221.27 664.71L222.61 664.62L223.96 664.54L225.3 664.45L226.65 664.37L227.99 664.29L229.33 664.21L230.68 664.13L232.02 664.05L233.37 663.97L234.71 663.9L236.05 663.82L237.4 663.75L238.74 663.67L240.09 663.6L241.43 663.53L242.77 663.46L244.12 663.39L245.46 663.32L246.8 663.25L248.15 663.19L249.49 663.12L250.84 663.06L252.18 662.99L253.52 662.93L254.87 662.87L256.21 662.81L257.55 662.75L258.89 662.69L260.24 662.63L261.58 662.57L262.92 662.51L264.27 662.46L265.61 662.4L266.95 662.35L268.3 662.3L269.64 662.24L270.98 662.19L272.32 662.14L273.67 662.09L275.01 662.04L276.35 661.99L277.69 661.95L279.04 661.9L280.38 661.85L281.72 661.81L283.06 661.76L284.41 661.72L285.75 661.68L287.09 661.63L288.43 661.59L289.78 661.55L291.12 661.51L292.46 661.47L293.8 661.44L295.14 661.4L296.49 661.36L297.83 661.32L299.17 661.29L300.51 661.25L301.85 661.22L303.19 661.19L304.54 661.15L305.88 661.12L307.22 661.09L308.56 661.06L309.9 661.03L311.25 661L312.59 660.97L313.93 660.94L315.27 660.92L316.61 660.89L317.95 660.86L319.29 660.84L320.64 660.81L321.98 660.79L323.32 660.76L324.66 660.74L326 660.72L327.34 660.7L328.68 660.67L330.02 660.65L331.37 660.63L332.71 660.61L334.05 660.59L335.39 660.58L336.73 660.56L338.07 660.54L339.41 660.52L340.75 660.51L342.09 660.49L343.43 660.47L344.77 660.46L346.12 660.45L347.46 660.43L348.8 660.42L350.14 660.4L351.48 660.39L352.82 660.38L354.16 660.37L355.5 660.36L356.84 660.35L358.18 660.34L359.52 660.33L360.86 660.32L362.2 660.31L363.54 660.3L364.89 660.29L366.23 660.28L367.57 660.27L368.91 660.27L370.25 660.26L371.59 660.25L372.93 660.25L374.27 660.24L375.61 660.24L376.95 660.23L378.29 660.23L379.63 660.22L380.97 660.22L382.31 660.22L383.65 660.21L384.99 660.21L386.33 660.21L387.67 660.21L389.01 660.2L390.35 660.2L391.69 660.2L393.03 660.2L394.37 660.2L395.71 660.2L397.05 660.2L398.39 660.2L399.73 660.2L401.07 660.2L402.41 660.2L403.75 660.2L405.09 660.2L406.43 660.2L407.77 660.21L409.11 660.21L410.45 660.21L411.79 660.21L413.13 660.21L414.47 660.22L415.81 660.22L417.15 660.22L418.49 660.23L419.83 660.23L421.17 660.23L422.51 660.24L423.85 660.24L425.19 660.24L426.53 660.25L427.87 660.25L429.21 660.26L430.55 660.26L431.89 660.26L433.23 660.27L434.57 660.27L435.91 660.28L437.25 660.28L438.59 660.29L439.93 660.29L441.27 660.3L442.61 660.3L443.95 660.31L445.29 660.31L446.63 660.32L447.97 660.32L449.31 660.33L450.65 660.33L451.99 660.34L453.33 660.34L454.67 660.35L456.01 660.35L457.35 660.36L458.69 660.36L460.03 660.37L461.37 660.37L462.71 660.38L464.05 660.39L465.39 660.39L466.73 660.4L468.07 660.4L469.41 660.4L470.75 660.41L472.09 660.41L473.43 660.42L474.77 660.42L476.11 660.43L477.45 660.43L478.79 660.44L480.13 660.44L481.47 660.44L482.81 660.45L484.15 660.45L485.49 660.46L486.83 660.46L488.17 660.46L489.51 660.47L490.85 660.47L492.19 660.47L493.53 660.47L494.87 660.48L496.21 660.48L497.55 660.48L498.89 660.48L500.23 660.48L501.57 660.48L502.91 660.49L504.25 660.49L505.59 660.49L506.93 660.49L508.27 660.49L509.61 660.49L510.96 660.49L512.3 660.49L513.64 660.49L514.98 660.49L516.32 660.48L517.66 660.48L519 660.48L520.34 660.48L521.68 660.48L523.02 660.47L524.36 660.47L525.7 660.47L527.04 660.46L528.38 660.46L529.72 660.45L531.06 660.45L532.4 660.44L533.74 660.44L535.08 660.43L536.42 660.43L537.77 660.42L539.11 660.41L540.45 660.4L541.79 660.4L543.13 660.39L544.47 660.38L545.81 660.37L547.15 660.36L548.49 660.35L549.83 660.34L551.17 660.33L552.52 660.32L553.86 660.31L555.2 660.29L556.54 660.28L557.88 660.27L559.22 660.25L560.56 660.24L561.9 660.23L563.24 660.21L564.59 660.2L565.93 660.18L567.27 660.16L568.61 660.15L569.95 660.13L571.29 660.11L572.63 660.09L573.97 660.07L575.32 660.05L576.66 660.03L578 660.01L579.34 659.99L580.68 659.97L582.02 659.95L583.37 659.93L584.71 659.9L586.05 659.88L587.39 659.86L588.73 659.84L590.07 659.81L591.42 659.79L592.76 659.76L594.1 659.74L595.44 659.71L596.78 659.69L598.13 659.66L599.47 659.63L600.81 659.61L602.15 659.58L603.49 659.55L604.83 659.53L606.18 659.5L607.52 659.47L608.86 659.44L610.2 659.41L611.54 659.39L612.89 659.36L614.23 659.33L615.57 659.3L616.91 659.27L618.25 659.24L619.6 659.21L620.94 659.18L622.28 659.15L623.62 659.12L624.96 659.09L626.31 659.06L627.65 659.03L628.99 659L630.33 658.97L631.68 658.93L633.02 658.9L634.36 658.87L635.7 658.84L637.04 658.81L638.39 658.78L639.73 658.75L641.07 658.71L642.41 658.68L643.75 658.65L645.1 658.62L646.44 658.59L647.78 658.55L649.12 658.52L650.47 658.49L651.81 658.46L653.15 658.43L654.49 658.4L655.83 658.36L657.18 658.33L658.52 658.3L659.86 658.27L661.2 658.24L662.54 658.21L663.89 658.17L665.23 658.14L666.57 658.11L667.91 658.08L669.25 658.05L670.6 658.02L671.94 657.99L673.28 657.96L674.62 657.93L675.96 657.9L677.31 657.87L678.65 657.84L679.99 657.81L681.33 657.78L682.67 657.75L684.02 657.72L685.36 657.69L686.7 657.66L688.04 657.63L689.38 657.6L690.72 657.58L692.07 657.55L693.41 657.52L694.75 657.49L696.09 657.47L697.43 657.44L698.77 657.41L700.12 657.39L701.46 657.36L702.8 657.34L704.14 657.31L705.48 657.29L706.82 657.26L708.17 657.24L709.51 657.22L710.85 657.19L712.19 657.17L713.53 657.15L714.87 657.12L716.21 657.1L717.56 657.08L718.9 657.06L720.24 657.04L721.58 657.02L722.92 657L724.26 656.98L725.6 656.96L726.94 656.94L728.28 656.93L729.63 656.91L730.97 656.89L732.31 656.88L733.65 656.86L734.99 656.84L736.33 656.83L737.67 656.82L739.01 656.8L740.35 656.79L741.69 656.78L743.03 656.76L744.37 656.75L745.71 656.74L747.05 656.73L748.39 656.72L749.74 656.71L751.08 656.7L752.42 656.7L753.76 656.69L755.1 656.68L756.44 656.68L757.78 656.67L759.12 656.67L760.46 656.66L761.8 656.66L763.14 656.66L764.48 656.66L765.82 656.66L767.16 656.65L768.5 656.66L769.84 656.66L771.18 656.66L772.51 656.67L773.85 656.68L775.19 656.7L776.53 656.73L777.87 656.77L779.2 656.82L780.54 656.89L781.87 656.97L783.2 657.06L784.53 657.17L785.86 657.3L787.19 657.45L788.51 657.62L789.84 657.81L791.16 658.03L792.48 658.28L793.8 658.55L795.11 658.85L796.42 659.18L797.73 659.54L799.04 659.93L800.35 660.36L807.5 660.36" stroke="#00f000"/>
<path d="M136.07 672.68L137.34 672.16L138.61 671.65L139.89 671.17L141.17 670.71L142.46 670.27L143.74 669.84L145.03 669.44L146.33 669.05L147.62 668.67L148.92 668.32L150.22 667.98L151.53 667.65L152.83 667.34L154.14 667.05L155.45 666.77L156.77 666.5L158.08 666.25L159.4 666.01L160.72 665.78L162.04 665.56L163.37 665.36L164.69 665.16L166.02 664.98L167.35 664.81L168.68 664.64L170.01 664.49L171.34 664.34L172.68 664.21L174.01 664.08L175.35 663.96L176.69 663.84L178.03 663.74L179.37 663.63L180.71 663.54L182.05 663.45L183.39 663.36L184.74 663.28L186.08 663.2L187.42 663.13L188.77 663.06L190.11 662.99L191.46 662.92L192.8 662.85L194.15 662.79L195.5 662.73L196.84 662.66L198.19 662.6L199.53 662.54L200.88 662.48L202.22 662.42L203.57 662.36L204.91 662.3L206.26 662.25L207.61 662.19L208.95 662.14L210.3 662.08L211.64 662.03L212.99 661.97L214.33 661.92L215.68 661.87L217.03 661.82L218.37 661.76L219.72 661.71L221.06 661.66L222.41 661.62L223.76 661.57L225.1 661.52L226.45 661.47L227.79 661.43L229.14 661.38L230.49 661.34L231.83 661.29L233.18 661.25L234.52 661.21L235.87 661.16L237.22 661.12L238.56 661.08L239.91 661.04L241.25 661L242.6 660.96L243.95 660.93L245.29 660.89L246.64 660.85L247.99 660.81L249.33 660.78L250.68 660.74L252.02 660.71L253.37 660.67L254.72 660.64L256.06 660.61L257.41 660.58L258.76 660.54L260.1 660.51L261.45 660.48L262.79 660.45L264.14 660.42L265.49 660.39L266.83 660.37L268.18 660.34L269.53 660.31L270.87 660.28L272.22 660.26L273.57 660.23L274.91 660.21L276.26 660.18L277.61 660.16L278.95 660.14L280.3 660.11L281.65 660.09L282.99 660.07L284.34 660.05L285.69 660.03L287.03 660.01L288.38 659.99L289.73 659.97L291.07 659.95L292.42 659.93L293.77 659.91L295.11 659.89L296.46 659.88L297.81 659.86L299.15 659.85L300.5 659.83L301.85 659.81L303.19 659.8L304.54 659.79L305.89 659.77L307.23 659.76L308.58 659.75L309.93 659.73L311.28 659.72L312.62 659.71L313.97 659.7L315.32 659.69L316.66 659.68L318.01 659.67L319.36 659.66L320.7 659.65L322.05 659.64L323.4 659.63L324.75 659.62L326.09 659.62L327.44 659.61L328.79 659.6L330.13 659.6L331.48 659.59L332.83 659.59L334.17 659.58L335.52 659.58L336.87 659.57L338.22 659.57L339.56 659.56L340.91 659.56L342.26 659.56L343.6 659.55L344.95 659.55L346.3 659.55L347.65 659.55L348.99 659.55L350.34 659.54L351.69 659.54L353.04 659.54L354.38 659.54L355.73 659.54L357.08 659.54L358.42 659.54L359.77 659.54L361.12 659.55L362.47 659.55L363.81 659.55L365.16 659.55L366.51 659.55L367.86 659.56L369.2 659.56L370.55 659.56L371.9 659.57L373.24 659.57L374.59 659.57L375.94 659.58L377.29 659.58L378.63 659.59L379.98 659.59L381.33 659.6L382.68 659.6L384.02 659.61L385.37 659.61L386.72 659.62L388.07 659.62L389.41 659.63L390.76 659.64L392.11 659.64L393.46 659.65L394.8 659.66L396.15 659.67L397.5 659.67L398.85 659.68L400.19 659.69L401.54 659.7L402.89 659.71L404.23 659.71L405.58 659.72L406.93 659.73L408.28 659.74L409.62 659.75L410.97 659.76L412.32 659.77L413.67 659.78L415.01 659.79L416.36 659.8L417.71 659.81L419.06 659.82L420.4 659.83L421.75 659.84L423.1 659.85L424.45 659.86L425.79 659.87L427.14 659.88L428.49 659.89L429.84 659.9L431.18 659.91L432.53 659.92L433.88 659.93L435.23 659.94L436.57 659.95L437.92 659.96L439.27 659.98L440.62 659.99L441.96 660L443.31 660.01L444.66 660.02L446.01 660.03L447.35 660.04L448.7 660.06L450.05 660.07L451.4 660.08L452.75 660.09L454.09 660.1L455.44 660.11L456.79 660.13L458.14 660.14L459.48 660.15L460.83 660.16L462.18 660.17L463.53 660.18L464.87 660.2L466.22 660.21L467.57 660.22L468.92 660.23L470.26 660.24L471.61 660.25L472.96 660.27L474.31 660.28L475.65 660.29L477 660.3L478.35 660.31L479.7 660.32L481.04 660.33L482.39 660.35L483.74 660.36L485.09 660.37L486.43 660.38L487.78 660.39L489.13 660.4L490.48 660.41L491.82 660.42L493.17 660.43L494.52 660.44L495.87 660.45L497.21 660.46L498.56 660.47L499.91 660.48L501.25 660.49L502.6 660.5L503.95 660.51L505.3 660.52L506.64 660.53L507.99 660.54L509.34 660.55L510.69 660.56L512.03 660.57L513.38 660.58L514.73 660.58L516.08 660.59L517.42 660.6L518.77 660.61L520.12 660.62L521.47 660.62L522.81 660.63L524.16 660.64L525.51 660.65L526.86 660.65L528.2 660.66L529.55 660.67L530.9 660.67L532.24 660.68L533.59 660.68L534.94 660.69L536.29 660.7L537.63 660.7L538.98 660.71L540.33 660.71L541.68 660.71L543.02 660.72L544.37 660.72L545.72 660.73L547.06 660.73L548.41 660.73L549.76 660.74L551.11 660.74L552.45 660.74L553.8 660.74L555.15 660.75L556.5 660.75L557.84 660.75L559.19 660.75L560.54 660.75L561.88 660.75L563.23 660.75L564.58 660.75L565.92 660.75L567.27 660.75L568.62 660.75L569.97 660.75L571.31 660.75L572.66 660.75L574.01 660.74L575.35 660.74L576.7 660.74L578.05 660.73L579.4 660.73L580.74 660.73L582.09 660.72L583.44 660.72L584.78 660.71L586.13 660.71L587.48 660.7L588.82 660.7L590.17 660.69L591.52 660.68L592.86 660.68L594.21 660.67L595.56 660.66L596.91 660.65L598.25 660.64L599.6 660.63L600.95 660.62L602.29 660.61L603.64 660.6L604.99 660.59L606.33 660.58L607.68 660.57L609.03 660.56L610.37 660.55L611.72 660.53L613.07 660.52L614.41 660.51L615.76 660.49L617.11 660.48L618.45 660.47L619.8 660.45L621.15 660.44L622.49 660.42L623.84 660.41L625.19 660.39L626.53 660.38L627.88 660.36L629.23 660.35L630.57 660.33L631.92 660.31L633.27 660.3L634.61 660.28L635.96 660.26L637.31 660.25L638.65 660.23L640 660.21L641.35 660.2L642.69 660.18L644.04 660.16L645.39 660.14L646.73 660.13L648.08 660.11L649.42 660.09L650.77 660.07L652.12 660.05L653.46 660.04L654.81 660.02L656.16 660L657.5 659.98L658.85 659.97L660.2 659.95L661.54 659.93L662.89 659.91L664.24 659.9L665.58 659.88L666.93 659.86L668.28 659.84L669.62 659.83L670.97 659.81L672.32 659.79L673.66 659.78L675.01 659.76L676.35 659.74L677.7 659.73L679.05 659.71L680.39 659.69L681.74 659.68L683.09 659.66L684.43 659.65L685.78 659.63L687.13 659.62L688.47 659.6L689.82 659.59L691.17 659.57L692.51 659.56L693.86 659.55L695.21 659.53L696.55 659.52L697.9 659.51L699.25 659.49L700.59 659.48L701.94 659.47L703.29 659.46L704.63 659.45L705.98 659.44L707.32 659.43L708.67 659.42L710.02 659.41L711.36 659.4L712.71 659.39L714.06 659.38L715.4 659.38L716.75 659.37L718.1 659.36L719.44 659.35L720.79 659.35L722.14 659.34L723.48 659.34L724.83 659.33L726.18 659.33L727.52 659.33L728.87 659.32L730.22 659.32L731.57 659.32L732.91 659.32L734.26 659.32L735.61 659.32L736.95 659.32L738.3 659.32L739.65 659.32L740.99 659.33L742.34 659.33L743.69 659.33L745.03 659.34L746.38 659.34L747.73 659.35L749.07 659.36L750.42 659.36L751.77 659.37L753.12 659.38L754.46 659.39L755.81 659.4L757.16 659.41L758.5 659.42L759.85 659.44L761.2 659.45L762.54 659.46L763.89 659.48L765.24 659.49L766.59 659.51L767.93 659.53L769.28 659.55L770.63 659.57L771.97 659.59L773.32 659.61L774.67 659.63L776.02 659.65L777.36 659.67L778.71 659.7L780.06 659.72L781.41 659.75L782.75 659.78L784.1 659.81L785.45 659.84L786.8 659.87L788.14 659.9L789.49 659.93L790.84 659.96L792.19 660L793.53 660.03L794.88 660.07L796.23 660.11L797.58 660.14L798.92 660.18L800.27 660.22L801.62 660.27L802.97 660.31L804.31 660.35L805.66 660.4L807.01 660.44" stroke="#0080ff"/>
</g>
<g stroke="#000" stroke-width="2.2" fill="none">
<rect x="136.2" y="569.7" width="670.8" height="459.0"/>
<path d="M136.2 615.02H142.2"/>
<path d="M136.2 660.4H146.5"/>
<path d="M136.2 705.78H142.2"/>
<path d="M136.2 751.15H146.5"/>
<path d="M136.2 796.53H142.2"/>
<path d="M136.2 841.9H146.5"/>
<path d="M136.2 887.28H142.2"/>
<path d="M136.2 932.66H146.5"/>
<path d="M136.2 978.03H142.2"/>
<path d="M136.2 1023.41H146.5"/>
<path d="M136.2 1028.7V1018.4"/>
<path d="M220.05 1028.7V1022.7"/>
<path d="M303.9 1028.7V1018.4"/>
<path d="M387.75 1028.7V1022.7"/>
<path d="M471.6 1028.7V1018.4"/>
<path d="M555.45 1028.7V1022.7"/>
<path d="M639.3 1028.7V1018.4"/>
<path d="M723.15 1028.7V1022.7"/>
<path d="M807 1028.7V1018.4"/>
</g>
<g font-family="'Liberation Serif','Times New Roman',serif" fill="#000">
<text transform="translate(54.9 579.45) scale(0.9650 1)" font-size="32">0.008</text>
<text transform="translate(54.9 670.2) scale(0.9650 1)" font-size="32">0.000</text>
<text transform="translate(37.48 760.95) scale(0.9650 1)" font-size="32">−0.008</text>
<text transform="translate(37.22 851.7) scale(0.9650 1)" font-size="32">−0.016</text>
<text transform="translate(36.79 942.46) scale(0.9650 1)" font-size="32">−0.024</text>
<text transform="translate(38.01 1033.21) scale(0.9650 1)" font-size="32">−0.032</text>
<text transform="translate(109.2 1064.8) scale(0.8763 1)" font-size="32">−1.0</text>
<text transform="translate(270.86 1064.8) scale(0.9637 1)" font-size="32">−0.5</text>
<text transform="translate(452.6 1064.8) scale(0.9650 1)" font-size="32">0.0</text>
<text transform="translate(620.32 1064.8) scale(0.9650 1)" font-size="32">0.5</text>
<text transform="translate(787.23 1064.8) scale(0.9650 1)" font-size="32">1.0</text>
<text transform="translate(154.2 607.4) scale(1.0388 1)" font-size="35">(b)</text>
</g>
<text font-family="'Liberation Serif','Times New Roman',serif" font-size="36" x="471" y="1104.5" text-anchor="middle"><tspan font-style="italic">k</tspan><tspan font-size="25" dy="8.5">B</tspan><tspan dy="-8.5">Δ</tspan><tspan font-style="italic">T</tspan> (meV)</text>
<g transform="translate(24.6 850) rotate(-90)" font-family="'Liberation Serif','Times New Roman',serif" fill="#000">
<text transform="translate(0.32 0) scale(1.0452 1)" font-size="36" font-style="italic">Q</text>
<text transform="translate(26.08 9.7) scale(1.0166 1)" font-size="24.5">L</text>
<text transform="translate(50.6 0) scale(1.0905 1)" font-size="36" font-style="italic">/</text>
<text transform="translate(67.93 0) scale(1.1131 1)" font-size="36" font-style="italic">Γ</text>
<text transform="translate(89.31 9.7) scale(0.9534 1)" font-size="24.5">0</text>
</g>
<g font-family="'Liberation Serif','Times New Roman',serif" fill="#000">
<path d="M224.35 742.9H295.15" stroke="#ff0000" stroke-width="4.7" stroke-linecap="round"/>
<text x="299.64" y="756.1" font-size="36">U</text>
<text transform="translate(328.49 754.66) scale(1.1223 0.8000)" font-size="36">=</text>
<text transform="translate(355.21 756.1) scale(0.9033 1)" font-size="36">5</text>
<path d="M224.35 786.55H295.15" stroke="#ff6600" stroke-width="4.7" stroke-linecap="round"/>
<text x="299.64" y="799.75" font-size="36">U</text>
<text transform="translate(328.49 798.31) scale(1.1223 0.8000)" font-size="36">=</text>
<text transform="translate(355.78 799.75) scale(0.8517 1)" font-size="36">6</text>
<path d="M224.35 830.2H295.15" stroke="#ffe600" stroke-width="4.7" stroke-linecap="round"/>
<text x="299.64" y="843.4" font-size="36">U</text>
<text transform="translate(328.49 841.96) scale(1.1223 0.8000)" font-size="36">=</text>
<text transform="translate(354.97 843.4) scale(0.8979 1)" font-size="36">7</text>
<path d="M224.35 873.85H295.15" stroke="#00f000" stroke-width="4.7" stroke-linecap="round"/>
<text x="299.64" y="887.05" font-size="36">U</text>
<text transform="translate(328.49 885.61) scale(1.1223 0.8000)" font-size="36">=</text>
<text transform="translate(355.92 887.05) scale(0.8586 1)" font-size="36">8</text>
<path d="M224.35 917.5H295.15" stroke="#0080ff" stroke-width="4.7" stroke-linecap="round"/>
<text x="299.64" y="930.7" font-size="36">U</text>
<text transform="translate(328.49 929.26) scale(1.1223 0.8000)" font-size="36">=</text>
<text transform="translate(356.11 930.7) scale(0.8527 1)" font-size="36">9</text>
</g>
<rect x="454.4" y="675.3" width="327.80000000000007" height="265.30000000000007" fill="#fff"/>
<g clip-path="url(#ci)" fill="none" stroke-width="2.6">
<path d="M454.4 855.65L455.5 856.17L456.59 856.79L457.69 857.46L458.79 858.14L459.88 858.83L460.98 859.53L462.07 860.23L463.17 860.93L464.27 861.62L465.36 862.3L466.46 862.98L467.56 863.65L468.65 864.3L469.75 864.95L470.84 865.58L471.94 866.2L473.04 866.81L474.13 867.4L475.23 867.99L476.33 868.56L477.42 869.11L478.52 869.66L479.62 870.19L480.71 870.71L481.81 871.21L482.9 871.7L484 872.18L485.1 872.65L486.19 873.1L487.29 873.54L488.39 873.97L489.48 874.39L490.58 874.8L491.67 875.19L492.77 875.57L493.87 875.95L494.96 876.31L496.06 876.66L497.16 877L498.25 877.33L499.35 877.65L500.45 877.96L501.54 878.26L502.64 878.55L503.73 878.83L504.83 879.1L505.93 879.37L507.02 879.63L508.12 879.87L509.22 880.11L510.31 880.35L511.41 880.57L512.51 880.79L513.6 881L514.7 881.21L515.79 881.4L516.89 881.59L517.99 881.78L519.08 881.96L520.18 882.13L521.28 882.3L522.37 882.46L523.47 882.61L524.56 882.76L525.66 882.91L526.76 883.05L527.85 883.18L528.95 883.31L530.05 883.44L531.14 883.56L532.24 883.68L533.34 883.79L534.43 883.9L535.53 884.01L536.62 884.11L537.72 884.21L538.82 884.3L539.91 884.39L541.01 884.48L542.11 884.57L543.2 884.65L544.3 884.73L545.39 884.8L546.49 884.88L547.59 884.95L548.68 885.02L549.78 885.08L550.88 885.15L551.97 885.21L553.07 885.26L554.17 885.32L555.26 885.38L556.36 885.43L557.45 885.48L558.55 885.53L559.65 885.57L560.74 885.62L561.84 885.66L562.94 885.71L564.03 885.75L565.13 885.78L566.22 885.82L567.32 885.86L568.42 885.89L569.51 885.93L570.61 885.96L571.71 885.99L572.8 886.02L573.9 886.05L575 886.07L576.09 886.1L577.19 886.13L578.28 886.15L579.38 886.17L580.48 886.2L581.57 886.22L582.67 886.24L583.77 886.26L584.86 886.28L585.96 886.3L587.05 886.31L588.15 886.33L589.25 886.35L590.34 886.36L591.44 886.38L592.54 886.39L593.63 886.41L594.73 886.42L595.83 886.43L596.92 886.45L598.02 886.46L599.11 886.47L600.21 886.48L601.31 886.49L602.4 886.5L603.5 886.51L604.6 886.52L605.69 886.53L606.79 886.54L607.88 886.55L608.98 886.55L610.08 886.56L611.17 886.57L612.27 886.58L613.37 886.58L614.46 886.59L615.56 886.6L616.66 886.6L617.75 886.61L618.85 886.61L619.94 886.62L621.04 886.62L622.14 886.63L623.23 886.63L624.33 886.64L625.43 886.64L626.52 886.65L627.62 886.65L628.72 886.65L629.81 886.66L630.91 886.66L632 886.66L633.1 886.67L634.2 886.67L635.29 886.67L636.39 886.68L637.49 886.68L638.58 886.68L639.68 886.68L640.77 886.69L641.87 886.69L642.97 886.69L644.06 886.69L645.16 886.69L646.26 886.7L647.35 886.7L648.45 886.7L649.55 886.7L650.64 886.7L651.74 886.7L652.83 886.71L653.93 886.71L655.03 886.71L656.12 886.71L657.22 886.71L658.32 886.71L659.41 886.71L660.51 886.72L661.6 886.72L662.7 886.72L663.8 886.72L664.89 886.72L665.99 886.72L667.09 886.72L668.18 886.72L669.28 886.72L670.38 886.72L671.47 886.72L672.57 886.72L673.66 886.73L674.76 886.73L675.86 886.73L676.95 886.73L678.05 886.73L679.15 886.73L680.24 886.73L681.34 886.73L682.43 886.73L683.53 886.73L684.63 886.73L685.72 886.73L686.82 886.73L687.92 886.73L689.01 886.73L690.11 886.73L691.21 886.73L692.3 886.73L693.4 886.73L694.49 886.73L695.59 886.73L696.69 886.73L697.78 886.73L698.88 886.73L699.98 886.73L701.07 886.74L702.17 886.74L703.26 886.74L704.36 886.74L705.46 886.74L706.55 886.74L707.65 886.74L708.75 886.74L709.84 886.74L710.94 886.74L712.04 886.74L713.13 886.74L714.23 886.74L715.32 886.74L716.42 886.74L717.52 886.74L718.61 886.74L719.71 886.74L720.81 886.74L721.9 886.74L723 886.74L724.09 886.74L725.19 886.74L726.29 886.74L727.38 886.74L728.48 886.74L729.58 886.74L730.67 886.74L731.77 886.74L732.87 886.74L733.96 886.74L735.06 886.74L736.15 886.74L737.25 886.74L738.35 886.74L739.44 886.74L740.54 886.74L741.64 886.74L742.73 886.74L743.83 886.74L744.93 886.74L746.02 886.74L747.12 886.74L748.21 886.74L749.31 886.74L750.41 886.74L751.5 886.74L752.6 886.74L753.7 886.74L754.79 886.74L755.89 886.74L756.98 886.74L758.08 886.74L759.18 886.74L760.27 886.74L761.37 886.74L762.47 886.74L763.56 886.74L764.66 886.74L765.76 886.74L766.85 886.74L767.95 886.74L769.04 886.74L770.14 886.74L771.24 886.74L772.33 886.74L773.43 886.74L774.53 886.74L775.62 886.74L776.72 886.74L777.81 886.74L778.91 886.74L780.01 886.74L781.1 886.74L782.2 886.74" stroke="#000"/>
<path d="M454.4 703.79L455.5 707.82L456.59 712.18L457.69 716.6L458.79 721.02L459.88 725.42L460.98 729.78L462.07 734.08L463.17 738.32L464.27 742.49L465.36 746.59L466.46 750.61L467.56 754.56L468.65 758.43L469.75 762.23L470.84 765.94L471.94 769.57L473.04 773.13L474.13 776.61L475.23 780L476.33 783.33L477.42 786.57L478.52 789.74L479.62 792.84L480.71 795.86L481.81 798.81L482.9 801.69L484 804.49L485.1 807.23L486.19 809.91L487.29 812.51L488.39 815.05L489.48 817.53L490.58 819.94L491.67 822.3L492.77 824.59L493.87 826.82L494.96 829L496.06 831.12L497.16 833.19L498.25 835.2L499.35 837.16L500.45 839.07L501.54 840.93L502.64 842.74L503.73 844.5L504.83 846.21L505.93 847.88L507.02 849.5L508.12 851.08L509.22 852.62L510.31 854.12L511.41 855.58L512.51 856.99L513.6 858.37L514.7 859.71L515.79 861.02L516.89 862.29L517.99 863.52L519.08 864.72L520.18 865.89L521.28 867.03L522.37 868.13L523.47 869.21L524.56 870.25L525.66 871.27L526.76 872.25L527.85 873.21L528.95 874.14L530.05 875.05L531.14 875.93L532.24 876.79L533.34 877.62L534.43 878.43L535.53 879.22L536.62 879.98L537.72 880.73L538.82 881.45L539.91 882.15L541.01 882.83L542.11 883.49L543.2 884.14L544.3 884.76L545.39 885.37L546.49 885.96L547.59 886.53L548.68 887.09L549.78 887.63L550.88 888.16L551.97 888.67L553.07 889.16L554.17 889.65L555.26 890.11L556.36 890.57L557.45 891.01L558.55 891.44L559.65 891.85L560.74 892.26L561.84 892.65L562.94 893.03L564.03 893.4L565.13 893.76L566.22 894.11L567.32 894.45L568.42 894.77L569.51 895.09L570.61 895.4L571.71 895.7L572.8 896L573.9 896.28L575 896.55L576.09 896.82L577.19 897.08L578.28 897.33L579.38 897.58L580.48 897.81L581.57 898.04L582.67 898.27L583.77 898.48L584.86 898.69L585.96 898.9L587.05 899.1L588.15 899.29L589.25 899.48L590.34 899.66L591.44 899.83L592.54 900L593.63 900.17L594.73 900.33L595.83 900.48L596.92 900.64L598.02 900.78L599.11 900.92L600.21 901.06L601.31 901.2L602.4 901.33L603.5 901.45L604.6 901.57L605.69 901.69L606.79 901.81L607.88 901.92L608.98 902.03L610.08 902.13L611.17 902.23L612.27 902.33L613.37 902.43L614.46 902.52L615.56 902.61L616.66 902.7L617.75 902.78L618.85 902.87L619.94 902.95L621.04 903.02L622.14 903.1L623.23 903.17L624.33 903.24L625.43 903.31L626.52 903.38L627.62 903.44L628.72 903.5L629.81 903.56L630.91 903.62L632 903.68L633.1 903.74L634.2 903.79L635.29 903.84L636.39 903.89L637.49 903.94L638.58 903.99L639.68 904.03L640.77 904.08L641.87 904.12L642.97 904.16L644.06 904.2L645.16 904.24L646.26 904.28L647.35 904.32L648.45 904.35L649.55 904.39L650.64 904.42L651.74 904.45L652.83 904.49L653.93 904.52L655.03 904.55L656.12 904.57L657.22 904.6L658.32 904.63L659.41 904.66L660.51 904.68L661.6 904.71L662.7 904.73L663.8 904.75L664.89 904.78L665.99 904.8L667.09 904.82L668.18 904.84L669.28 904.86L670.38 904.88L671.47 904.9L672.57 904.91L673.66 904.93L674.76 904.95L675.86 904.97L676.95 904.98L678.05 905L679.15 905.01L680.24 905.03L681.34 905.04L682.43 905.05L683.53 905.07L684.63 905.08L685.72 905.09L686.82 905.1L687.92 905.12L689.01 905.13L690.11 905.14L691.21 905.15L692.3 905.16L693.4 905.17L694.49 905.18L695.59 905.19L696.69 905.2L697.78 905.2L698.88 905.21L699.98 905.22L701.07 905.23L702.17 905.24L703.26 905.24L704.36 905.25L705.46 905.26L706.55 905.27L707.65 905.27L708.75 905.28L709.84 905.28L710.94 905.29L712.04 905.3L713.13 905.3L714.23 905.31L715.32 905.31L716.42 905.32L717.52 905.32L718.61 905.33L719.71 905.33L720.81 905.34L721.9 905.34L723 905.34L724.09 905.35L725.19 905.35L726.29 905.36L727.38 905.36L728.48 905.36L729.58 905.37L730.67 905.37L731.77 905.37L732.87 905.38L733.96 905.38L735.06 905.38L736.15 905.39L737.25 905.39L738.35 905.39L739.44 905.39L740.54 905.4L741.64 905.4L742.73 905.4L743.83 905.4L744.93 905.41L746.02 905.41L747.12 905.41L748.21 905.41L749.31 905.41L750.41 905.42L751.5 905.42L752.6 905.42L753.7 905.42L754.79 905.42L755.89 905.42L756.98 905.43L758.08 905.43L759.18 905.43L760.27 905.43L761.37 905.43L762.47 905.43L763.56 905.43L764.66 905.44L765.76 905.44L766.85 905.44L767.95 905.44L769.04 905.44L770.14 905.44L771.24 905.44L772.33 905.44L773.43 905.44L774.53 905.45L775.62 905.45L776.72 905.45L777.81 905.45L778.91 905.45L780.01 905.45L781.1 905.45L782.2 905.45" stroke="#ff0000"/>
</g>
<g stroke="#000" fill="none">
<rect x="454.4" y="675.3" width="327.80000000000007" height="265.30000000000007" stroke-width="1.6"/>
<path d="M454.4 675.3V940.6H782.2" stroke-width="1.9"/>
<path d="M454.4 919H458.9" stroke-width="1.5"/>
<path d="M454.4 896.85H456.9" stroke-width="1.5"/>
<path d="M454.4 874.7H458.9" stroke-width="1.5"/>
<path d="M454.4 852.55H456.9" stroke-width="1.5"/>
<path d="M454.4 830.4H458.9" stroke-width="1.5"/>
<path d="M454.4 808.25H456.9" stroke-width="1.5"/>
<path d="M454.4 786.1H458.9" stroke-width="1.5"/>
<path d="M454.4 763.95H456.9" stroke-width="1.5"/>
<path d="M454.4 741.8H458.9" stroke-width="1.5"/>
<path d="M454.4 719.65H456.9" stroke-width="1.5"/>
<path d="M454.4 697.5H458.9" stroke-width="1.5"/>
<path d="M454.4 940.6V936.1" stroke-width="1.5"/>
<path d="M470.79 940.6V938.1" stroke-width="1.5"/>
<path d="M487.18 940.6V936.1" stroke-width="1.5"/>
<path d="M503.57 940.6V938.1" stroke-width="1.5"/>
<path d="M519.96 940.6V936.1" stroke-width="1.5"/>
<path d="M536.35 940.6V938.1" stroke-width="1.5"/>
<path d="M552.74 940.6V936.1" stroke-width="1.5"/>
<path d="M569.13 940.6V938.1" stroke-width="1.5"/>
<path d="M585.52 940.6V936.1" stroke-width="1.5"/>
<path d="M601.91 940.6V938.1" stroke-width="1.5"/>
<path d="M618.3 940.6V936.1" stroke-width="1.5"/>
<path d="M634.69 940.6V938.1" stroke-width="1.5"/>
<path d="M651.08 940.6V936.1" stroke-width="1.5"/>
<path d="M667.47 940.6V938.1" stroke-width="1.5"/>
<path d="M683.86 940.6V936.1" stroke-width="1.5"/>
<path d="M700.25 940.6V938.1" stroke-width="1.5"/>
<path d="M716.64 940.6V936.1" stroke-width="1.5"/>
<path d="M733.03 940.6V938.1" stroke-width="1.5"/>
<path d="M749.42 940.6V936.1" stroke-width="1.5"/>
<path d="M765.81 940.6V938.1" stroke-width="1.5"/>
<path d="M782.2 940.6V936.1" stroke-width="1.5"/>
</g>
<g font-family="'Liberation Serif','Times New Roman',serif" font-size="15" fill="#000">
<text transform="translate(415.6 923.5) scale(0.9650 1)" font-size="15">0.005</text>
<text transform="translate(415.58 879.2) scale(0.9650 1)" font-size="15">0.010</text>
<text transform="translate(415.6 834.9) scale(0.9650 1)" font-size="15">0.015</text>
<text transform="translate(415.58 790.6) scale(0.9650 1)" font-size="15">0.020</text>
<text transform="translate(415.6 746.3) scale(0.9650 1)" font-size="15">0.025</text>
<text transform="translate(415.58 702) scale(0.9650 1)" font-size="15">0.030</text>
<text transform="translate(450.64 958.3) scale(0.9650 1)" font-size="15">5</text>
<text transform="translate(483.47 958.3) scale(0.9650 1)" font-size="15">6</text>
<text transform="translate(516.07 958.3) scale(0.9650 1)" font-size="15">7</text>
<text transform="translate(549.12 958.3) scale(0.9650 1)" font-size="15">8</text>
<text transform="translate(581.96 958.3) scale(0.9650 1)" font-size="15">9</text>
<text transform="translate(610.7 958.3) scale(0.9650 1)" font-size="15">10</text>
<text transform="translate(643.64 958.3) scale(0.9650 1)" font-size="15">11</text>
<text transform="translate(676.39 958.3) scale(0.9650 1)" font-size="15">12</text>
<text transform="translate(709.05 958.3) scale(0.9650 1)" font-size="15">13</text>
<text transform="translate(741.66 958.3) scale(0.9650 1)" font-size="15">14</text>
<text transform="translate(774.61 958.3) scale(0.9650 1)" font-size="15">15</text>
</g>
<text font-family="'Liberation Serif','Times New Roman',serif" font-size="22" x="618.6" y="984.2" text-anchor="middle"><tspan font-style="italic">U</tspan> (meV)</text>
<g transform="translate(403.1 850) rotate(-90)" font-family="'Liberation Serif','Times New Roman',serif" fill="#000">
<text transform="translate(10.32 0) scale(1.0037 1)" font-size="23.2" font-style="italic">Q</text>
<text transform="translate(26.51 5.6) scale(1.0947 1)" font-size="15.4">L</text>
<text transform="translate(42.2 0) scale(0.9377 1)" font-size="23.2" font-style="italic">/</text>
<text transform="translate(52.81 0) scale(1.0689 1)" font-size="23.2" font-style="italic">Γ</text>
<text transform="translate(66.23 5.6) scale(0.9652 1)" font-size="15.4">0</text>
</g>
<g font-family="'Liberation Serif','Times New Roman',serif" fill="#000">
<text transform="translate(514 720.5) scale(0.9573 1)" font-size="29">P=0.7</text>
</g>
<path d="M702.1 710.6H739.1" stroke="#000" stroke-width="2.5"/>
<path d="M702.1 735.1H739.1" stroke="#ff0000" stroke-width="2.5"/>
<text font-family="'Liberation Serif','Times New Roman',serif" font-size="18" x="742.5" y="717.1">|Q<tspan font-size="12" dy="-7">+</tspan><tspan dy="7">|</tspan></text>
<text font-family="'Liberation Serif','Times New Roman',serif" font-size="18" x="742.5" y="741.6">|Q<tspan font-size="12" dy="-7">−</tspan><tspan dy="7">|</tspan></text>
</svg>
</body></html>
